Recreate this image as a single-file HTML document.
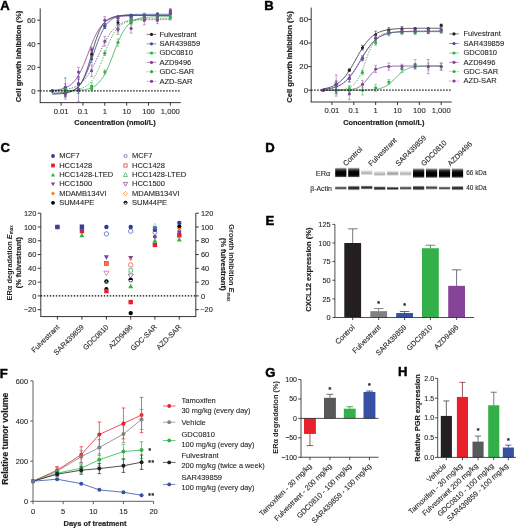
<!DOCTYPE html>
<html><head><meta charset="utf-8"><title>Figure</title>
<style>html,body{margin:0;padding:0;background:#fff}svg{display:block}</style></head>
<body>
<svg width="520" height="530" viewBox="0 0 520 530" font-family="Liberation Sans, Arial, sans-serif">
<rect width="520" height="530" fill="#ffffff"/>
<text x="0.3" y="9.8" font-size="13.1" font-weight="bold" fill="#000" stroke="#000" stroke-width="0.45">A</text>
<text x="264.3" y="9.6" font-size="13.1" font-weight="bold" fill="#000" stroke="#000" stroke-width="0.45">B</text>
<text x="0.5" y="152.4" font-size="13.1" font-weight="bold" fill="#000" stroke="#000" stroke-width="0.45">C</text>
<text x="265.2" y="152.2" font-size="13.1" font-weight="bold" fill="#000" stroke="#000" stroke-width="0.45">D</text>
<text x="265.6" y="224.9" font-size="13.1" font-weight="bold" fill="#000" stroke="#000" stroke-width="0.45">E</text>
<text x="-0.3" y="377.9" font-size="13.1" font-weight="bold" fill="#000" stroke="#000" stroke-width="0.45">F</text>
<text x="265.2" y="376.6" font-size="13.1" font-weight="bold" fill="#000" stroke="#000" stroke-width="0.45">G</text>
<text x="398.0" y="376.0" font-size="13.1" font-weight="bold" fill="#000" stroke="#000" stroke-width="0.45">H</text>
<path d="M52.18 93.14 L53.16 93.13 L54.15 93.11 L55.13 93.09 L56.12 93.07 L57.10 93.05 L58.09 93.02 L59.07 92.98 L60.06 92.94 L61.04 92.88 L62.03 92.82 L63.01 92.75 L64.00 92.66 L64.98 92.56 L65.97 92.43 L66.95 92.29 L67.94 92.11 L68.92 91.90 L69.91 91.66 L70.89 91.36 L71.87 91.02 L72.86 90.61 L73.84 90.13 L74.83 89.56 L75.81 88.90 L76.80 88.12 L77.78 87.22 L78.77 86.17 L79.75 84.95 L80.74 83.56 L81.72 81.96 L82.71 80.16 L83.69 78.13 L84.68 75.87 L85.66 73.38 L86.65 70.66 L87.63 67.74 L88.62 64.63 L89.60 61.37 L90.59 58.01 L91.57 54.59 L92.55 51.17 L93.54 47.80 L94.52 44.52 L95.51 41.39 L96.49 38.44 L97.48 35.69 L98.46 33.16 L99.45 30.86 L100.43 28.80 L101.42 26.96 L102.40 25.34 L103.39 23.91 L104.37 22.67 L105.36 21.60 L106.34 20.67 L107.33 19.88 L108.31 19.20 L109.30 18.62 L110.28 18.12 L111.26 17.70 L112.25 17.35 L113.23 17.05 L114.22 16.80 L115.20 16.58 L116.19 16.40 L117.17 16.25 L118.16 16.13 L119.14 16.02 L120.13 15.93 L121.11 15.85 L122.10 15.79 L123.08 15.74 L124.07 15.69 L125.05 15.65 L126.04 15.62 L127.02 15.60 L128.01 15.57 L128.99 15.55 L129.98 15.54 L130.96 15.53 L131.94 15.51 L132.93 15.51 L133.91 15.50 L134.90 15.49 L135.88 15.49 L136.87 15.48 L137.85 15.48 L138.84 15.47 L139.82 15.47 L140.81 15.47 L141.79 15.47 L142.78 15.47 L143.76 15.46 L144.75 15.46 L145.73 15.46 L146.72 15.46 L147.70 15.46 L148.69 15.46 L149.67 15.46 L150.65 15.46 L151.64 15.46 L152.62 15.46 L153.61 15.46 L154.59 15.46 L155.58 15.46 L156.56 15.46 L157.55 15.46 L158.53 15.46 L159.52 15.46 L160.50 15.46 L161.49 15.46 L162.47 15.46 L163.46 15.46 L164.44 15.46 L165.43 15.46 L166.41 15.46 L167.40 15.46 L168.38 15.46 L169.37 15.46 L170.35 15.46" fill="none" stroke="#231f20" stroke-width="0.75"/>
<path d="M52.18 94.20 L53.16 94.17 L54.15 94.14 L55.13 94.10 L56.12 94.06 L57.10 94.01 L58.09 93.95 L59.07 93.88 L60.06 93.80 L61.04 93.71 L62.03 93.61 L63.01 93.49 L64.00 93.35 L64.98 93.19 L65.97 93.00 L66.95 92.79 L67.94 92.55 L68.92 92.27 L69.91 91.95 L70.89 91.58 L71.87 91.16 L72.86 90.68 L73.84 90.13 L74.83 89.51 L75.81 88.80 L76.80 87.99 L77.78 87.09 L78.77 86.06 L79.75 84.92 L80.74 83.64 L81.72 82.21 L82.71 80.63 L83.69 78.90 L84.68 77.00 L85.66 74.94 L86.65 72.73 L87.63 70.36 L88.62 67.84 L89.60 65.20 L90.59 62.46 L91.57 59.63 L92.55 56.75 L93.54 53.85 L94.52 50.95 L95.51 48.08 L96.49 45.28 L97.48 42.57 L98.46 39.97 L99.45 37.50 L100.43 35.18 L101.42 33.01 L102.40 31.01 L103.39 29.17 L104.37 27.49 L105.36 25.96 L106.34 24.59 L107.33 23.35 L108.31 22.25 L109.30 21.26 L110.28 20.39 L111.26 19.62 L112.25 18.94 L113.23 18.34 L114.22 17.82 L115.20 17.36 L116.19 16.95 L117.17 16.60 L118.16 16.30 L119.14 16.03 L120.13 15.80 L121.11 15.60 L122.10 15.42 L123.08 15.27 L124.07 15.14 L125.05 15.02 L126.04 14.92 L127.02 14.84 L128.01 14.76 L128.99 14.70 L129.98 14.64 L130.96 14.59 L131.94 14.55 L132.93 14.51 L133.91 14.48 L134.90 14.45 L135.88 14.43 L136.87 14.41 L137.85 14.39 L138.84 14.38 L139.82 14.36 L140.81 14.35 L141.79 14.34 L142.78 14.33 L143.76 14.33 L144.75 14.32 L145.73 14.32 L146.72 14.31 L147.70 14.31 L148.69 14.30 L149.67 14.30 L150.65 14.30 L151.64 14.29 L152.62 14.29 L153.61 14.29 L154.59 14.29 L155.58 14.29 L156.56 14.29 L157.55 14.29 L158.53 14.29 L159.52 14.28 L160.50 14.28 L161.49 14.28 L162.47 14.28 L163.46 14.28 L164.44 14.28 L165.43 14.28 L166.41 14.28 L167.40 14.28 L168.38 14.28 L169.37 14.28 L170.35 14.28" fill="none" stroke="#2d3b8c" stroke-width="0.75"/>
<path d="M52.18 90.84 L53.16 90.84 L54.15 90.83 L55.13 90.83 L56.12 90.83 L57.10 90.83 L58.09 90.82 L59.07 90.82 L60.06 90.81 L61.04 90.81 L62.03 90.80 L63.01 90.79 L64.00 90.79 L64.98 90.78 L65.97 90.76 L66.95 90.75 L67.94 90.74 L68.92 90.72 L69.91 90.70 L70.89 90.68 L71.87 90.65 L72.86 90.62 L73.84 90.59 L74.83 90.55 L75.81 90.50 L76.80 90.45 L77.78 90.39 L78.77 90.32 L79.75 90.24 L80.74 90.15 L81.72 90.05 L82.71 89.93 L83.69 89.80 L84.68 89.64 L85.66 89.46 L86.65 89.26 L87.63 89.02 L88.62 88.76 L89.60 88.45 L90.59 88.10 L91.57 87.71 L92.55 87.26 L93.54 86.75 L94.52 86.17 L95.51 85.52 L96.49 84.78 L97.48 83.95 L98.46 83.03 L99.45 81.99 L100.43 80.84 L101.42 79.56 L102.40 78.15 L103.39 76.61 L104.37 74.93 L105.36 73.11 L106.34 71.15 L107.33 69.06 L108.31 66.84 L109.30 64.51 L110.28 62.08 L111.26 59.58 L112.25 57.02 L113.23 54.43 L114.22 51.83 L115.20 49.25 L116.19 46.72 L117.17 44.25 L118.16 41.87 L119.14 39.59 L120.13 37.43 L121.11 35.40 L122.10 33.50 L123.08 31.75 L124.07 30.13 L125.05 28.65 L126.04 27.31 L127.02 26.09 L128.01 24.99 L128.99 24.01 L129.98 23.13 L130.96 22.35 L131.94 21.65 L132.93 21.03 L133.91 20.49 L134.90 20.01 L135.88 19.58 L136.87 19.21 L137.85 18.89 L138.84 18.60 L139.82 18.35 L140.81 18.13 L141.79 17.94 L142.78 17.77 L143.76 17.62 L144.75 17.50 L145.73 17.38 L146.72 17.29 L147.70 17.20 L148.69 17.13 L149.67 17.07 L150.65 17.01 L151.64 16.96 L152.62 16.92 L153.61 16.88 L154.59 16.85 L155.58 16.82 L156.56 16.80 L157.55 16.78 L158.53 16.76 L159.52 16.74 L160.50 16.73 L161.49 16.72 L162.47 16.71 L163.46 16.70 L164.44 16.69 L165.43 16.68 L166.41 16.68 L167.40 16.67 L168.38 16.67 L169.37 16.66 L170.35 16.66" fill="none" stroke="#2ea646" stroke-width="0.75"/>
<path d="M52.18 90.35 L53.16 90.28 L54.15 90.20 L55.13 90.10 L56.12 89.99 L57.10 89.87 L58.09 89.72 L59.07 89.56 L60.06 89.38 L61.04 89.17 L62.03 88.92 L63.01 88.65 L64.00 88.34 L64.98 87.98 L65.97 87.58 L66.95 87.12 L67.94 86.61 L68.92 86.02 L69.91 85.37 L70.89 84.63 L71.87 83.80 L72.86 82.88 L73.84 81.85 L74.83 80.70 L75.81 79.44 L76.80 78.05 L77.78 76.52 L78.77 74.87 L79.75 73.07 L80.74 71.14 L81.72 69.09 L82.71 66.91 L83.69 64.61 L84.68 62.23 L85.66 59.76 L86.65 57.23 L87.63 54.66 L88.62 52.08 L89.60 49.51 L90.59 46.97 L91.57 44.49 L92.55 42.09 L93.54 39.78 L94.52 37.58 L95.51 35.50 L96.49 33.55 L97.48 31.73 L98.46 30.05 L99.45 28.51 L100.43 27.10 L101.42 25.81 L102.40 24.65 L103.39 23.60 L104.37 22.65 L105.36 21.81 L106.34 21.06 L107.33 20.39 L108.31 19.79 L109.30 19.27 L110.28 18.80 L111.26 18.39 L112.25 18.03 L113.23 17.71 L114.22 17.43 L115.20 17.18 L116.19 16.96 L117.17 16.78 L118.16 16.61 L119.14 16.46 L120.13 16.34 L121.11 16.23 L122.10 16.13 L123.08 16.04 L124.07 15.97 L125.05 15.90 L126.04 15.85 L127.02 15.80 L128.01 15.75 L128.99 15.72 L129.98 15.68 L130.96 15.65 L131.94 15.63 L132.93 15.61 L133.91 15.59 L134.90 15.57 L135.88 15.56 L136.87 15.54 L137.85 15.53 L138.84 15.52 L139.82 15.52 L140.81 15.51 L141.79 15.50 L142.78 15.50 L143.76 15.49 L144.75 15.49 L145.73 15.48 L146.72 15.48 L147.70 15.48 L148.69 15.47 L149.67 15.47 L150.65 15.47 L151.64 15.47 L152.62 15.47 L153.61 15.47 L154.59 15.47 L155.58 15.46 L156.56 15.46 L157.55 15.46 L158.53 15.46 L159.52 15.46 L160.50 15.46 L161.49 15.46 L162.47 15.46 L163.46 15.46 L164.44 15.46 L165.43 15.46 L166.41 15.46 L167.40 15.46 L168.38 15.46 L169.37 15.46 L170.35 15.46" fill="none" stroke="#6f3a8c" stroke-width="0.75"/>
<path d="M52.18 90.82 L53.16 90.81 L54.15 90.81 L55.13 90.80 L56.12 90.79 L57.10 90.78 L58.09 90.77 L59.07 90.76 L60.06 90.74 L61.04 90.73 L62.03 90.71 L63.01 90.68 L64.00 90.66 L64.98 90.63 L65.97 90.59 L66.95 90.55 L67.94 90.51 L68.92 90.46 L69.91 90.39 L70.89 90.32 L71.87 90.24 L72.86 90.15 L73.84 90.04 L74.83 89.91 L75.81 89.77 L76.80 89.60 L77.78 89.41 L78.77 89.19 L79.75 88.94 L80.74 88.65 L81.72 88.32 L82.71 87.94 L83.69 87.51 L84.68 87.02 L85.66 86.45 L86.65 85.81 L87.63 85.09 L88.62 84.27 L89.60 83.35 L90.59 82.32 L91.57 81.17 L92.55 79.89 L93.54 78.47 L94.52 76.91 L95.51 75.21 L96.49 73.37 L97.48 71.38 L98.46 69.26 L99.45 67.01 L100.43 64.65 L101.42 62.21 L102.40 59.68 L103.39 57.12 L104.37 54.53 L105.36 51.95 L106.34 49.41 L107.33 46.92 L108.31 44.52 L109.30 42.22 L110.28 40.03 L111.26 37.98 L112.25 36.07 L113.23 34.30 L114.22 32.68 L115.20 31.19 L116.19 29.85 L117.17 28.64 L118.16 27.55 L119.14 26.58 L120.13 25.71 L121.11 24.95 L122.10 24.27 L123.08 23.67 L124.07 23.15 L125.05 22.68 L126.04 22.28 L127.02 21.93 L128.01 21.62 L128.99 21.35 L129.98 21.12 L130.96 20.91 L131.94 20.74 L132.93 20.58 L133.91 20.45 L134.90 20.33 L135.88 20.23 L136.87 20.14 L137.85 20.07 L138.84 20.00 L139.82 19.95 L140.81 19.90 L141.79 19.85 L142.78 19.82 L143.76 19.79 L144.75 19.76 L145.73 19.73 L146.72 19.71 L147.70 19.70 L148.69 19.68 L149.67 19.67 L150.65 19.66 L151.64 19.65 L152.62 19.64 L153.61 19.63 L154.59 19.62 L155.58 19.62 L156.56 19.61 L157.55 19.61 L158.53 19.60 L159.52 19.60 L160.50 19.60 L161.49 19.60 L162.47 19.59 L163.46 19.59 L164.44 19.59 L165.43 19.59 L166.41 19.59 L167.40 19.59 L168.38 19.59 L169.37 19.59 L170.35 19.59" fill="none" stroke="#2ea646" stroke-width="0.75" stroke-dasharray="1.6 1.2"/>
<path d="M52.18 90.57 L53.16 90.54 L54.15 90.50 L55.13 90.45 L56.12 90.40 L57.10 90.35 L58.09 90.29 L59.07 90.22 L60.06 90.14 L61.04 90.05 L62.03 89.95 L63.01 89.84 L64.00 89.72 L64.98 89.58 L65.97 89.43 L66.95 89.26 L67.94 89.06 L68.92 88.85 L69.91 88.61 L70.89 88.34 L71.87 88.04 L72.86 87.70 L73.84 87.33 L74.83 86.91 L75.81 86.45 L76.80 85.94 L77.78 85.38 L78.77 84.76 L79.75 84.07 L80.74 83.31 L81.72 82.49 L82.71 81.58 L83.69 80.59 L84.68 79.51 L85.66 78.35 L86.65 77.09 L87.63 75.74 L88.62 74.29 L89.60 72.74 L90.59 71.11 L91.57 69.38 L92.55 67.58 L93.54 65.69 L94.52 63.74 L95.51 61.73 L96.49 59.67 L97.48 57.58 L98.46 55.47 L99.45 53.36 L100.43 51.26 L101.42 49.18 L102.40 47.14 L103.39 45.15 L104.37 43.22 L105.36 41.36 L106.34 39.58 L107.33 37.89 L108.31 36.29 L109.30 34.78 L110.28 33.36 L111.26 32.05 L112.25 30.82 L113.23 29.69 L114.22 28.64 L115.20 27.69 L116.19 26.81 L117.17 26.01 L118.16 25.28 L119.14 24.61 L120.13 24.01 L121.11 23.47 L122.10 22.98 L123.08 22.54 L124.07 22.14 L125.05 21.78 L126.04 21.46 L127.02 21.17 L128.01 20.91 L128.99 20.68 L129.98 20.47 L130.96 20.28 L131.94 20.12 L132.93 19.97 L133.91 19.84 L134.90 19.72 L135.88 19.61 L136.87 19.52 L137.85 19.44 L138.84 19.36 L139.82 19.30 L140.81 19.24 L141.79 19.18 L142.78 19.14 L143.76 19.09 L144.75 19.06 L145.73 19.02 L146.72 18.99 L147.70 18.97 L148.69 18.95 L149.67 18.92 L150.65 18.91 L151.64 18.89 L152.62 18.87 L153.61 18.86 L154.59 18.85 L155.58 18.84 L156.56 18.83 L157.55 18.82 L158.53 18.81 L159.52 18.81 L160.50 18.80 L161.49 18.80 L162.47 18.79 L163.46 18.79 L164.44 18.79 L165.43 18.78 L166.41 18.78 L167.40 18.78 L168.38 18.77 L169.37 18.77 L170.35 18.77" fill="none" stroke="#6f3a8c" stroke-width="0.75" stroke-dasharray="1.6 1.2"/>
<circle cx="52.18" cy="90.85" r="1.55" fill="#231f20" stroke="none" stroke-width="0.6"/>
<line x1="65.33" y1="89.67" x2="65.33" y2="96.74" stroke="#231f20" stroke-width="0.5" />
<line x1="63.93" y1="89.67" x2="66.73" y2="89.67" stroke="#231f20" stroke-width="0.5" />
<line x1="63.93" y1="96.74" x2="66.73" y2="96.74" stroke="#231f20" stroke-width="0.5" />
<circle cx="65.33" cy="93.21" r="1.55" fill="#231f20" stroke="none" stroke-width="0.6"/>
<line x1="78.49" y1="79.07" x2="78.49" y2="88.49" stroke="#231f20" stroke-width="0.5" />
<line x1="77.09" y1="79.07" x2="79.89" y2="79.07" stroke="#231f20" stroke-width="0.5" />
<line x1="77.09" y1="88.49" x2="79.89" y2="88.49" stroke="#231f20" stroke-width="0.5" />
<circle cx="78.49" cy="83.78" r="1.55" fill="#231f20" stroke="none" stroke-width="0.6"/>
<line x1="91.64" y1="51.98" x2="91.64" y2="56.69" stroke="#231f20" stroke-width="0.5" />
<line x1="90.24" y1="51.98" x2="93.04" y2="51.98" stroke="#231f20" stroke-width="0.5" />
<line x1="90.24" y1="56.69" x2="93.04" y2="56.69" stroke="#231f20" stroke-width="0.5" />
<circle cx="91.64" cy="54.33" r="1.55" fill="#231f20" stroke="none" stroke-width="0.6"/>
<line x1="104.80" y1="23.70" x2="104.80" y2="28.42" stroke="#231f20" stroke-width="0.5" />
<line x1="103.40" y1="23.70" x2="106.20" y2="23.70" stroke="#231f20" stroke-width="0.5" />
<line x1="103.40" y1="28.42" x2="106.20" y2="28.42" stroke="#231f20" stroke-width="0.5" />
<circle cx="104.80" cy="26.06" r="1.55" fill="#231f20" stroke="none" stroke-width="0.6"/>
<line x1="117.96" y1="20.17" x2="117.96" y2="24.88" stroke="#231f20" stroke-width="0.5" />
<line x1="116.56" y1="20.17" x2="119.36" y2="20.17" stroke="#231f20" stroke-width="0.5" />
<line x1="116.56" y1="24.88" x2="119.36" y2="24.88" stroke="#231f20" stroke-width="0.5" />
<circle cx="117.96" cy="22.53" r="1.55" fill="#231f20" stroke="none" stroke-width="0.6"/>
<line x1="131.11" y1="14.28" x2="131.11" y2="18.99" stroke="#231f20" stroke-width="0.5" />
<line x1="129.71" y1="14.28" x2="132.51" y2="14.28" stroke="#231f20" stroke-width="0.5" />
<line x1="129.71" y1="18.99" x2="132.51" y2="18.99" stroke="#231f20" stroke-width="0.5" />
<circle cx="131.11" cy="16.64" r="1.55" fill="#231f20" stroke="none" stroke-width="0.6"/>
<line x1="144.27" y1="14.28" x2="144.27" y2="16.64" stroke="#231f20" stroke-width="0.5" />
<line x1="142.87" y1="14.28" x2="145.67" y2="14.28" stroke="#231f20" stroke-width="0.5" />
<line x1="142.87" y1="16.64" x2="145.67" y2="16.64" stroke="#231f20" stroke-width="0.5" />
<circle cx="144.27" cy="15.46" r="1.55" fill="#231f20" stroke="none" stroke-width="0.6"/>
<line x1="157.42" y1="13.10" x2="157.42" y2="15.46" stroke="#231f20" stroke-width="0.5" />
<line x1="156.02" y1="13.10" x2="158.82" y2="13.10" stroke="#231f20" stroke-width="0.5" />
<line x1="156.02" y1="15.46" x2="158.82" y2="15.46" stroke="#231f20" stroke-width="0.5" />
<circle cx="157.42" cy="14.28" r="1.55" fill="#231f20" stroke="none" stroke-width="0.6"/>
<line x1="170.35" y1="11.92" x2="170.35" y2="14.28" stroke="#231f20" stroke-width="0.5" />
<line x1="168.95" y1="11.92" x2="171.75" y2="11.92" stroke="#231f20" stroke-width="0.5" />
<line x1="168.95" y1="14.28" x2="171.75" y2="14.28" stroke="#231f20" stroke-width="0.5" />
<circle cx="170.35" cy="13.10" r="1.55" fill="#231f20" stroke="none" stroke-width="0.6"/>
<circle cx="52.18" cy="90.85" r="1.55" fill="#3850a2" stroke="none" stroke-width="0.6"/>
<line x1="65.33" y1="77.89" x2="65.33" y2="96.74" stroke="#3850a2" stroke-width="0.5" />
<line x1="63.93" y1="77.89" x2="66.73" y2="77.89" stroke="#3850a2" stroke-width="0.5" />
<line x1="63.93" y1="96.74" x2="66.73" y2="96.74" stroke="#3850a2" stroke-width="0.5" />
<circle cx="65.33" cy="87.32" r="1.55" fill="#3850a2" stroke="none" stroke-width="0.6"/>
<line x1="78.49" y1="76.71" x2="78.49" y2="90.85" stroke="#3850a2" stroke-width="0.5" />
<line x1="77.09" y1="76.71" x2="79.89" y2="76.71" stroke="#3850a2" stroke-width="0.5" />
<line x1="77.09" y1="90.85" x2="79.89" y2="90.85" stroke="#3850a2" stroke-width="0.5" />
<circle cx="78.49" cy="83.78" r="1.55" fill="#3850a2" stroke="none" stroke-width="0.6"/>
<line x1="91.64" y1="55.51" x2="91.64" y2="62.58" stroke="#3850a2" stroke-width="0.5" />
<line x1="90.24" y1="55.51" x2="93.04" y2="55.51" stroke="#3850a2" stroke-width="0.5" />
<line x1="90.24" y1="62.58" x2="93.04" y2="62.58" stroke="#3850a2" stroke-width="0.5" />
<circle cx="91.64" cy="59.04" r="1.55" fill="#3850a2" stroke="none" stroke-width="0.6"/>
<line x1="104.80" y1="23.70" x2="104.80" y2="28.42" stroke="#3850a2" stroke-width="0.5" />
<line x1="103.40" y1="23.70" x2="106.20" y2="23.70" stroke="#3850a2" stroke-width="0.5" />
<line x1="103.40" y1="28.42" x2="106.20" y2="28.42" stroke="#3850a2" stroke-width="0.5" />
<circle cx="104.80" cy="26.06" r="1.55" fill="#3850a2" stroke="none" stroke-width="0.6"/>
<line x1="117.96" y1="15.46" x2="117.96" y2="20.17" stroke="#3850a2" stroke-width="0.5" />
<line x1="116.56" y1="15.46" x2="119.36" y2="15.46" stroke="#3850a2" stroke-width="0.5" />
<line x1="116.56" y1="20.17" x2="119.36" y2="20.17" stroke="#3850a2" stroke-width="0.5" />
<circle cx="117.96" cy="17.81" r="1.55" fill="#3850a2" stroke="none" stroke-width="0.6"/>
<line x1="131.11" y1="14.28" x2="131.11" y2="18.99" stroke="#3850a2" stroke-width="0.5" />
<line x1="129.71" y1="14.28" x2="132.51" y2="14.28" stroke="#3850a2" stroke-width="0.5" />
<line x1="129.71" y1="18.99" x2="132.51" y2="18.99" stroke="#3850a2" stroke-width="0.5" />
<circle cx="131.11" cy="16.64" r="1.55" fill="#3850a2" stroke="none" stroke-width="0.6"/>
<line x1="144.27" y1="13.10" x2="144.27" y2="17.81" stroke="#3850a2" stroke-width="0.5" />
<line x1="142.87" y1="13.10" x2="145.67" y2="13.10" stroke="#3850a2" stroke-width="0.5" />
<line x1="142.87" y1="17.81" x2="145.67" y2="17.81" stroke="#3850a2" stroke-width="0.5" />
<circle cx="144.27" cy="15.46" r="1.55" fill="#3850a2" stroke="none" stroke-width="0.6"/>
<line x1="157.42" y1="13.10" x2="157.42" y2="15.46" stroke="#3850a2" stroke-width="0.5" />
<line x1="156.02" y1="13.10" x2="158.82" y2="13.10" stroke="#3850a2" stroke-width="0.5" />
<line x1="156.02" y1="15.46" x2="158.82" y2="15.46" stroke="#3850a2" stroke-width="0.5" />
<circle cx="157.42" cy="14.28" r="1.55" fill="#3850a2" stroke="none" stroke-width="0.6"/>
<line x1="170.35" y1="9.57" x2="170.35" y2="14.28" stroke="#3850a2" stroke-width="0.5" />
<line x1="168.95" y1="9.57" x2="171.75" y2="9.57" stroke="#3850a2" stroke-width="0.5" />
<line x1="168.95" y1="14.28" x2="171.75" y2="14.28" stroke="#3850a2" stroke-width="0.5" />
<circle cx="170.35" cy="11.92" r="1.55" fill="#3850a2" stroke="none" stroke-width="0.6"/>
<circle cx="52.18" cy="90.85" r="1.55" fill="#33b04a" stroke="none" stroke-width="0.6"/>
<line x1="65.33" y1="88.49" x2="65.33" y2="93.21" stroke="#33b04a" stroke-width="0.5" />
<line x1="63.93" y1="88.49" x2="66.73" y2="88.49" stroke="#33b04a" stroke-width="0.5" />
<line x1="63.93" y1="93.21" x2="66.73" y2="93.21" stroke="#33b04a" stroke-width="0.5" />
<circle cx="65.33" cy="90.85" r="1.55" fill="#33b04a" stroke="none" stroke-width="0.6"/>
<line x1="78.49" y1="88.49" x2="78.49" y2="93.21" stroke="#33b04a" stroke-width="0.5" />
<line x1="77.09" y1="88.49" x2="79.89" y2="88.49" stroke="#33b04a" stroke-width="0.5" />
<line x1="77.09" y1="93.21" x2="79.89" y2="93.21" stroke="#33b04a" stroke-width="0.5" />
<circle cx="78.49" cy="90.85" r="1.55" fill="#33b04a" stroke="none" stroke-width="0.6"/>
<line x1="91.64" y1="86.14" x2="91.64" y2="90.85" stroke="#33b04a" stroke-width="0.5" />
<line x1="90.24" y1="86.14" x2="93.04" y2="86.14" stroke="#33b04a" stroke-width="0.5" />
<line x1="90.24" y1="90.85" x2="93.04" y2="90.85" stroke="#33b04a" stroke-width="0.5" />
<circle cx="91.64" cy="88.49" r="1.55" fill="#33b04a" stroke="none" stroke-width="0.6"/>
<line x1="104.80" y1="69.65" x2="104.80" y2="74.36" stroke="#33b04a" stroke-width="0.5" />
<line x1="103.40" y1="69.65" x2="106.20" y2="69.65" stroke="#33b04a" stroke-width="0.5" />
<line x1="103.40" y1="74.36" x2="106.20" y2="74.36" stroke="#33b04a" stroke-width="0.5" />
<circle cx="104.80" cy="72.00" r="1.55" fill="#33b04a" stroke="none" stroke-width="0.6"/>
<line x1="117.96" y1="39.02" x2="117.96" y2="46.09" stroke="#33b04a" stroke-width="0.5" />
<line x1="116.56" y1="39.02" x2="119.36" y2="39.02" stroke="#33b04a" stroke-width="0.5" />
<line x1="116.56" y1="46.09" x2="119.36" y2="46.09" stroke="#33b04a" stroke-width="0.5" />
<circle cx="117.96" cy="42.55" r="1.55" fill="#33b04a" stroke="none" stroke-width="0.6"/>
<line x1="131.11" y1="20.17" x2="131.11" y2="24.88" stroke="#33b04a" stroke-width="0.5" />
<line x1="129.71" y1="20.17" x2="132.51" y2="20.17" stroke="#33b04a" stroke-width="0.5" />
<line x1="129.71" y1="24.88" x2="132.51" y2="24.88" stroke="#33b04a" stroke-width="0.5" />
<circle cx="131.11" cy="22.53" r="1.55" fill="#33b04a" stroke="none" stroke-width="0.6"/>
<line x1="144.27" y1="15.46" x2="144.27" y2="20.17" stroke="#33b04a" stroke-width="0.5" />
<line x1="142.87" y1="15.46" x2="145.67" y2="15.46" stroke="#33b04a" stroke-width="0.5" />
<line x1="142.87" y1="20.17" x2="145.67" y2="20.17" stroke="#33b04a" stroke-width="0.5" />
<circle cx="144.27" cy="17.81" r="1.55" fill="#33b04a" stroke="none" stroke-width="0.6"/>
<line x1="157.42" y1="14.28" x2="157.42" y2="18.99" stroke="#33b04a" stroke-width="0.5" />
<line x1="156.02" y1="14.28" x2="158.82" y2="14.28" stroke="#33b04a" stroke-width="0.5" />
<line x1="156.02" y1="18.99" x2="158.82" y2="18.99" stroke="#33b04a" stroke-width="0.5" />
<circle cx="157.42" cy="16.64" r="1.55" fill="#33b04a" stroke="none" stroke-width="0.6"/>
<line x1="170.35" y1="14.28" x2="170.35" y2="18.99" stroke="#33b04a" stroke-width="0.5" />
<line x1="168.95" y1="14.28" x2="171.75" y2="14.28" stroke="#33b04a" stroke-width="0.5" />
<line x1="168.95" y1="18.99" x2="171.75" y2="18.99" stroke="#33b04a" stroke-width="0.5" />
<circle cx="170.35" cy="16.64" r="1.55" fill="#33b04a" stroke="none" stroke-width="0.6"/>
<circle cx="52.18" cy="90.85" r="1.55" fill="#86439a" stroke="none" stroke-width="0.6"/>
<line x1="65.33" y1="83.78" x2="65.33" y2="90.85" stroke="#86439a" stroke-width="0.5" />
<line x1="63.93" y1="83.78" x2="66.73" y2="83.78" stroke="#86439a" stroke-width="0.5" />
<line x1="63.93" y1="90.85" x2="66.73" y2="90.85" stroke="#86439a" stroke-width="0.5" />
<circle cx="65.33" cy="87.32" r="1.55" fill="#86439a" stroke="none" stroke-width="0.6"/>
<line x1="78.49" y1="67.29" x2="78.49" y2="76.71" stroke="#86439a" stroke-width="0.5" />
<line x1="77.09" y1="67.29" x2="79.89" y2="67.29" stroke="#86439a" stroke-width="0.5" />
<line x1="77.09" y1="76.71" x2="79.89" y2="76.71" stroke="#86439a" stroke-width="0.5" />
<circle cx="78.49" cy="72.00" r="1.55" fill="#86439a" stroke="none" stroke-width="0.6"/>
<line x1="91.64" y1="47.26" x2="91.64" y2="51.98" stroke="#86439a" stroke-width="0.5" />
<line x1="90.24" y1="47.26" x2="93.04" y2="47.26" stroke="#86439a" stroke-width="0.5" />
<line x1="90.24" y1="51.98" x2="93.04" y2="51.98" stroke="#86439a" stroke-width="0.5" />
<circle cx="91.64" cy="49.62" r="1.55" fill="#86439a" stroke="none" stroke-width="0.6"/>
<line x1="104.80" y1="16.64" x2="104.80" y2="23.70" stroke="#86439a" stroke-width="0.5" />
<line x1="103.40" y1="16.64" x2="106.20" y2="16.64" stroke="#86439a" stroke-width="0.5" />
<line x1="103.40" y1="23.70" x2="106.20" y2="23.70" stroke="#86439a" stroke-width="0.5" />
<circle cx="104.80" cy="20.17" r="1.55" fill="#86439a" stroke="none" stroke-width="0.6"/>
<line x1="117.96" y1="15.46" x2="117.96" y2="20.17" stroke="#86439a" stroke-width="0.5" />
<line x1="116.56" y1="15.46" x2="119.36" y2="15.46" stroke="#86439a" stroke-width="0.5" />
<line x1="116.56" y1="20.17" x2="119.36" y2="20.17" stroke="#86439a" stroke-width="0.5" />
<circle cx="117.96" cy="17.81" r="1.55" fill="#86439a" stroke="none" stroke-width="0.6"/>
<line x1="131.11" y1="15.46" x2="131.11" y2="22.53" stroke="#86439a" stroke-width="0.5" />
<line x1="129.71" y1="15.46" x2="132.51" y2="15.46" stroke="#86439a" stroke-width="0.5" />
<line x1="129.71" y1="22.53" x2="132.51" y2="22.53" stroke="#86439a" stroke-width="0.5" />
<circle cx="131.11" cy="18.99" r="1.55" fill="#86439a" stroke="none" stroke-width="0.6"/>
<line x1="144.27" y1="15.46" x2="144.27" y2="20.17" stroke="#86439a" stroke-width="0.5" />
<line x1="142.87" y1="15.46" x2="145.67" y2="15.46" stroke="#86439a" stroke-width="0.5" />
<line x1="142.87" y1="20.17" x2="145.67" y2="20.17" stroke="#86439a" stroke-width="0.5" />
<circle cx="144.27" cy="17.81" r="1.55" fill="#86439a" stroke="none" stroke-width="0.6"/>
<line x1="157.42" y1="14.28" x2="157.42" y2="18.99" stroke="#86439a" stroke-width="0.5" />
<line x1="156.02" y1="14.28" x2="158.82" y2="14.28" stroke="#86439a" stroke-width="0.5" />
<line x1="156.02" y1="18.99" x2="158.82" y2="18.99" stroke="#86439a" stroke-width="0.5" />
<circle cx="157.42" cy="16.64" r="1.55" fill="#86439a" stroke="none" stroke-width="0.6"/>
<line x1="170.35" y1="8.39" x2="170.35" y2="13.10" stroke="#86439a" stroke-width="0.5" />
<line x1="168.95" y1="8.39" x2="171.75" y2="8.39" stroke="#86439a" stroke-width="0.5" />
<line x1="168.95" y1="13.10" x2="171.75" y2="13.10" stroke="#86439a" stroke-width="0.5" />
<circle cx="170.35" cy="10.75" r="1.55" fill="#86439a" stroke="none" stroke-width="0.6"/>
<circle cx="52.18" cy="90.85" r="1.55" fill="#33b04a" stroke="none" stroke-width="0.6"/>
<line x1="65.33" y1="88.49" x2="65.33" y2="93.21" stroke="#33b04a" stroke-width="0.5" />
<line x1="63.93" y1="88.49" x2="66.73" y2="88.49" stroke="#33b04a" stroke-width="0.5" />
<line x1="63.93" y1="93.21" x2="66.73" y2="93.21" stroke="#33b04a" stroke-width="0.5" />
<circle cx="65.33" cy="90.85" r="1.55" fill="#33b04a" stroke="none" stroke-width="0.6"/>
<line x1="78.49" y1="86.14" x2="78.49" y2="93.21" stroke="#33b04a" stroke-width="0.5" />
<line x1="77.09" y1="86.14" x2="79.89" y2="86.14" stroke="#33b04a" stroke-width="0.5" />
<line x1="77.09" y1="93.21" x2="79.89" y2="93.21" stroke="#33b04a" stroke-width="0.5" />
<circle cx="78.49" cy="89.67" r="1.55" fill="#33b04a" stroke="none" stroke-width="0.6"/>
<line x1="91.64" y1="82.60" x2="91.64" y2="89.67" stroke="#33b04a" stroke-width="0.5" />
<line x1="90.24" y1="82.60" x2="93.04" y2="82.60" stroke="#33b04a" stroke-width="0.5" />
<line x1="90.24" y1="89.67" x2="93.04" y2="89.67" stroke="#33b04a" stroke-width="0.5" />
<circle cx="91.64" cy="86.14" r="1.55" fill="#33b04a" stroke="none" stroke-width="0.6"/>
<line x1="104.80" y1="50.80" x2="104.80" y2="55.51" stroke="#33b04a" stroke-width="0.5" />
<line x1="103.40" y1="50.80" x2="106.20" y2="50.80" stroke="#33b04a" stroke-width="0.5" />
<line x1="103.40" y1="55.51" x2="106.20" y2="55.51" stroke="#33b04a" stroke-width="0.5" />
<circle cx="104.80" cy="53.15" r="1.55" fill="#33b04a" stroke="none" stroke-width="0.6"/>
<line x1="117.96" y1="24.88" x2="117.96" y2="31.95" stroke="#33b04a" stroke-width="0.5" />
<line x1="116.56" y1="24.88" x2="119.36" y2="24.88" stroke="#33b04a" stroke-width="0.5" />
<line x1="116.56" y1="31.95" x2="119.36" y2="31.95" stroke="#33b04a" stroke-width="0.5" />
<circle cx="117.96" cy="28.42" r="1.55" fill="#33b04a" stroke="none" stroke-width="0.6"/>
<line x1="131.11" y1="17.81" x2="131.11" y2="22.53" stroke="#33b04a" stroke-width="0.5" />
<line x1="129.71" y1="17.81" x2="132.51" y2="17.81" stroke="#33b04a" stroke-width="0.5" />
<line x1="129.71" y1="22.53" x2="132.51" y2="22.53" stroke="#33b04a" stroke-width="0.5" />
<circle cx="131.11" cy="20.17" r="1.55" fill="#33b04a" stroke="none" stroke-width="0.6"/>
<line x1="144.27" y1="16.64" x2="144.27" y2="21.35" stroke="#33b04a" stroke-width="0.5" />
<line x1="142.87" y1="16.64" x2="145.67" y2="16.64" stroke="#33b04a" stroke-width="0.5" />
<line x1="142.87" y1="21.35" x2="145.67" y2="21.35" stroke="#33b04a" stroke-width="0.5" />
<circle cx="144.27" cy="18.99" r="1.55" fill="#33b04a" stroke="none" stroke-width="0.6"/>
<line x1="157.42" y1="16.64" x2="157.42" y2="21.35" stroke="#33b04a" stroke-width="0.5" />
<line x1="156.02" y1="16.64" x2="158.82" y2="16.64" stroke="#33b04a" stroke-width="0.5" />
<line x1="156.02" y1="21.35" x2="158.82" y2="21.35" stroke="#33b04a" stroke-width="0.5" />
<circle cx="157.42" cy="18.99" r="1.55" fill="#33b04a" stroke="none" stroke-width="0.6"/>
<line x1="170.35" y1="15.46" x2="170.35" y2="20.17" stroke="#33b04a" stroke-width="0.5" />
<line x1="168.95" y1="15.46" x2="171.75" y2="15.46" stroke="#33b04a" stroke-width="0.5" />
<line x1="168.95" y1="20.17" x2="171.75" y2="20.17" stroke="#33b04a" stroke-width="0.5" />
<circle cx="170.35" cy="17.81" r="1.55" fill="#33b04a" stroke="none" stroke-width="0.6"/>
<circle cx="52.18" cy="90.85" r="1.55" fill="#86439a" stroke="none" stroke-width="0.6"/>
<line x1="65.33" y1="89.67" x2="65.33" y2="99.10" stroke="#86439a" stroke-width="0.5" />
<line x1="63.93" y1="89.67" x2="66.73" y2="89.67" stroke="#86439a" stroke-width="0.5" />
<line x1="63.93" y1="99.10" x2="66.73" y2="99.10" stroke="#86439a" stroke-width="0.5" />
<circle cx="65.33" cy="94.38" r="1.55" fill="#86439a" stroke="none" stroke-width="0.6"/>
<line x1="78.49" y1="77.89" x2="78.49" y2="101.45" stroke="#86439a" stroke-width="0.5" />
<line x1="77.09" y1="77.89" x2="79.89" y2="77.89" stroke="#86439a" stroke-width="0.5" />
<line x1="77.09" y1="101.45" x2="79.89" y2="101.45" stroke="#86439a" stroke-width="0.5" />
<circle cx="78.49" cy="89.67" r="1.55" fill="#86439a" stroke="none" stroke-width="0.6"/>
<line x1="91.64" y1="64.93" x2="91.64" y2="76.71" stroke="#86439a" stroke-width="0.5" />
<line x1="90.24" y1="64.93" x2="93.04" y2="64.93" stroke="#86439a" stroke-width="0.5" />
<line x1="90.24" y1="76.71" x2="93.04" y2="76.71" stroke="#86439a" stroke-width="0.5" />
<circle cx="91.64" cy="70.82" r="1.55" fill="#86439a" stroke="none" stroke-width="0.6"/>
<line x1="104.80" y1="36.66" x2="104.80" y2="46.09" stroke="#86439a" stroke-width="0.5" />
<line x1="103.40" y1="36.66" x2="106.20" y2="36.66" stroke="#86439a" stroke-width="0.5" />
<line x1="103.40" y1="46.09" x2="106.20" y2="46.09" stroke="#86439a" stroke-width="0.5" />
<circle cx="104.80" cy="41.37" r="1.55" fill="#86439a" stroke="none" stroke-width="0.6"/>
<line x1="117.96" y1="24.88" x2="117.96" y2="34.31" stroke="#86439a" stroke-width="0.5" />
<line x1="116.56" y1="24.88" x2="119.36" y2="24.88" stroke="#86439a" stroke-width="0.5" />
<line x1="116.56" y1="34.31" x2="119.36" y2="34.31" stroke="#86439a" stroke-width="0.5" />
<circle cx="117.96" cy="29.59" r="1.55" fill="#86439a" stroke="none" stroke-width="0.6"/>
<line x1="131.11" y1="23.70" x2="131.11" y2="33.13" stroke="#86439a" stroke-width="0.5" />
<line x1="129.71" y1="23.70" x2="132.51" y2="23.70" stroke="#86439a" stroke-width="0.5" />
<line x1="129.71" y1="33.13" x2="132.51" y2="33.13" stroke="#86439a" stroke-width="0.5" />
<circle cx="131.11" cy="28.42" r="1.55" fill="#86439a" stroke="none" stroke-width="0.6"/>
<line x1="144.27" y1="15.46" x2="144.27" y2="24.88" stroke="#86439a" stroke-width="0.5" />
<line x1="142.87" y1="15.46" x2="145.67" y2="15.46" stroke="#86439a" stroke-width="0.5" />
<line x1="142.87" y1="24.88" x2="145.67" y2="24.88" stroke="#86439a" stroke-width="0.5" />
<circle cx="144.27" cy="20.17" r="1.55" fill="#86439a" stroke="none" stroke-width="0.6"/>
<line x1="157.42" y1="16.64" x2="157.42" y2="23.70" stroke="#86439a" stroke-width="0.5" />
<line x1="156.02" y1="16.64" x2="158.82" y2="16.64" stroke="#86439a" stroke-width="0.5" />
<line x1="156.02" y1="23.70" x2="158.82" y2="23.70" stroke="#86439a" stroke-width="0.5" />
<circle cx="157.42" cy="20.17" r="1.55" fill="#86439a" stroke="none" stroke-width="0.6"/>
<line x1="170.35" y1="9.57" x2="170.35" y2="14.28" stroke="#86439a" stroke-width="0.5" />
<line x1="168.95" y1="9.57" x2="171.75" y2="9.57" stroke="#86439a" stroke-width="0.5" />
<line x1="168.95" y1="14.28" x2="171.75" y2="14.28" stroke="#86439a" stroke-width="0.5" />
<circle cx="170.35" cy="11.92" r="1.55" fill="#86439a" stroke="none" stroke-width="0.6"/>
<line x1="40.20" y1="90.85" x2="180.85" y2="90.85" stroke="#000" stroke-width="1.3" stroke-dasharray="1.4 1.6"/>
<line x1="40.20" y1="8.39" x2="40.20" y2="102.63" stroke="#231f20" stroke-width="0.9" />
<line x1="39.75" y1="102.63" x2="180.85" y2="102.63" stroke="#231f20" stroke-width="0.9" />
<line x1="37.20" y1="90.85" x2="40.20" y2="90.85" stroke="#231f20" stroke-width="0.9" />
<text x="35.60" y="93.65" font-size="7.8" text-anchor="end" fill="#231f20" stroke="#231f20" stroke-width="0.1" >0</text>
<line x1="37.20" y1="67.29" x2="40.20" y2="67.29" stroke="#231f20" stroke-width="0.9" />
<text x="35.60" y="70.09" font-size="7.8" text-anchor="end" fill="#231f20" stroke="#231f20" stroke-width="0.1" >20</text>
<line x1="37.20" y1="43.73" x2="40.20" y2="43.73" stroke="#231f20" stroke-width="0.9" />
<text x="35.60" y="46.53" font-size="7.8" text-anchor="end" fill="#231f20" stroke="#231f20" stroke-width="0.1" >40</text>
<line x1="37.20" y1="20.17" x2="40.20" y2="20.17" stroke="#231f20" stroke-width="0.9" />
<text x="35.60" y="22.97" font-size="7.8" text-anchor="end" fill="#231f20" stroke="#231f20" stroke-width="0.1" >60</text>
<line x1="61.10" y1="102.63" x2="61.10" y2="105.63" stroke="#231f20" stroke-width="0.9" />
<text x="61.10" y="113.83" font-size="7.6" text-anchor="middle" fill="#231f20" stroke="#231f20" stroke-width="0.1" >0.01</text>
<line x1="82.95" y1="102.63" x2="82.95" y2="105.63" stroke="#231f20" stroke-width="0.9" />
<text x="82.95" y="113.83" font-size="7.6" text-anchor="middle" fill="#231f20" stroke="#231f20" stroke-width="0.1" >0.1</text>
<line x1="104.80" y1="102.63" x2="104.80" y2="105.63" stroke="#231f20" stroke-width="0.9" />
<text x="104.80" y="113.83" font-size="7.6" text-anchor="middle" fill="#231f20" stroke="#231f20" stroke-width="0.1" >1</text>
<line x1="126.65" y1="102.63" x2="126.65" y2="105.63" stroke="#231f20" stroke-width="0.9" />
<text x="126.65" y="113.83" font-size="7.6" text-anchor="middle" fill="#231f20" stroke="#231f20" stroke-width="0.1" >10</text>
<line x1="148.50" y1="102.63" x2="148.50" y2="105.63" stroke="#231f20" stroke-width="0.9" />
<text x="148.50" y="113.83" font-size="7.6" text-anchor="middle" fill="#231f20" stroke="#231f20" stroke-width="0.1" >100</text>
<line x1="170.35" y1="102.63" x2="170.35" y2="105.63" stroke="#231f20" stroke-width="0.9" />
<text x="170.35" y="113.83" font-size="7.6" text-anchor="middle" fill="#231f20" stroke="#231f20" stroke-width="0.1" >1,000</text>
<text x="115.00" y="125.10" font-size="7.4" text-anchor="middle" fill="#231f20" stroke="#231f20" stroke-width="0.2" font-weight="bold" >Concentration (nmol/L)</text>
<text x="20.90" y="56.60" font-size="7.6" text-anchor="middle" fill="#231f20" stroke="#231f20" stroke-width="0.2" font-weight="bold" transform="rotate(-90 20.90 56.60)" >Cell growth inhibition (%)</text>
<line x1="146.70" y1="34.40" x2="156.30" y2="34.40" stroke="#231f20" stroke-width="0.6" />
<circle cx="151.50" cy="34.40" r="1.6" fill="#231f20" stroke="none" stroke-width="0.6"/>
<text x="159.40" y="36.70" font-size="7.55" text-anchor="start" fill="#231f20" stroke="#231f20" stroke-width="0.1" >Fulvestrant</text>
<line x1="146.70" y1="43.80" x2="156.30" y2="43.80" stroke="#3850a2" stroke-width="0.6" />
<circle cx="151.50" cy="43.80" r="1.6" fill="#3850a2" stroke="none" stroke-width="0.6"/>
<text x="159.40" y="46.10" font-size="7.55" text-anchor="start" fill="#231f20" stroke="#231f20" stroke-width="0.1" >SAR439859</text>
<line x1="146.70" y1="53.00" x2="156.30" y2="53.00" stroke="#33b04a" stroke-width="0.6" />
<circle cx="151.50" cy="53.00" r="1.6" fill="#33b04a" stroke="none" stroke-width="0.6"/>
<text x="159.40" y="55.30" font-size="7.55" text-anchor="start" fill="#231f20" stroke="#231f20" stroke-width="0.1" >GDC0810</text>
<line x1="146.70" y1="62.40" x2="156.30" y2="62.40" stroke="#86439a" stroke-width="0.6" />
<circle cx="151.50" cy="62.40" r="1.6" fill="#86439a" stroke="none" stroke-width="0.6"/>
<text x="159.40" y="64.70" font-size="7.55" text-anchor="start" fill="#231f20" stroke="#231f20" stroke-width="0.1" >AZD9496</text>
<line x1="146.70" y1="71.70" x2="156.30" y2="71.70" stroke="#33b04a" stroke-width="0.6" stroke-dasharray="1.6 1.2"/>
<circle cx="151.50" cy="71.70" r="1.6" fill="#33b04a" stroke="none" stroke-width="0.6"/>
<text x="159.40" y="74.00" font-size="7.55" text-anchor="start" fill="#231f20" stroke="#231f20" stroke-width="0.1" >GDC-SAR</text>
<line x1="146.70" y1="81.30" x2="156.30" y2="81.30" stroke="#86439a" stroke-width="0.6" stroke-dasharray="1.6 1.2"/>
<circle cx="151.50" cy="81.30" r="1.6" fill="#86439a" stroke="none" stroke-width="0.6"/>
<text x="159.40" y="83.60" font-size="7.55" text-anchor="start" fill="#231f20" stroke="#231f20" stroke-width="0.1" >AZD-SAR</text>
<path d="M323.03 88.86 L324.01 88.70 L325.00 88.53 L325.98 88.33 L326.97 88.11 L327.95 87.87 L328.94 87.60 L329.92 87.30 L330.91 86.97 L331.89 86.60 L332.88 86.19 L333.86 85.74 L334.85 85.24 L335.83 84.70 L336.82 84.10 L337.80 83.44 L338.79 82.72 L339.77 81.94 L340.76 81.09 L341.74 80.16 L342.72 79.17 L343.71 78.09 L344.69 76.94 L345.68 75.71 L346.66 74.41 L347.65 73.03 L348.63 71.58 L349.62 70.06 L350.60 68.48 L351.59 66.84 L352.57 65.16 L353.56 63.44 L354.54 61.69 L355.53 59.93 L356.51 58.16 L357.50 56.40 L358.48 54.66 L359.47 52.94 L360.45 51.27 L361.44 49.64 L362.42 48.07 L363.40 46.57 L364.39 45.13 L365.37 43.77 L366.36 42.48 L367.34 41.26 L368.33 40.13 L369.31 39.07 L370.30 38.09 L371.28 37.18 L372.27 36.34 L373.25 35.57 L374.24 34.87 L375.22 34.22 L376.21 33.63 L377.19 33.10 L378.18 32.61 L379.16 32.17 L380.15 31.77 L381.13 31.41 L382.11 31.09 L383.10 30.79 L384.08 30.53 L385.07 30.29 L386.05 30.08 L387.04 29.89 L388.02 29.71 L389.01 29.56 L389.99 29.42 L390.98 29.30 L391.96 29.19 L392.95 29.09 L393.93 29.00 L394.92 28.92 L395.90 28.85 L396.89 28.78 L397.87 28.72 L398.86 28.67 L399.84 28.63 L400.83 28.59 L401.81 28.55 L402.79 28.52 L403.78 28.49 L404.76 28.46 L405.75 28.44 L406.73 28.42 L407.72 28.40 L408.70 28.39 L409.69 28.37 L410.67 28.36 L411.66 28.35 L412.64 28.34 L413.63 28.33 L414.61 28.32 L415.60 28.31 L416.58 28.30 L417.57 28.30 L418.55 28.29 L419.54 28.29 L420.52 28.28 L421.50 28.28 L422.49 28.28 L423.47 28.27 L424.46 28.27 L425.44 28.27 L426.43 28.27 L427.41 28.27 L428.40 28.26 L429.38 28.26 L430.37 28.26 L431.35 28.26 L432.34 28.26 L433.32 28.26 L434.31 28.26 L435.29 28.26 L436.28 28.26 L437.26 28.25 L438.25 28.25 L439.23 28.25 L440.22 28.25 L441.20 28.25" fill="none" stroke="#231f20" stroke-width="0.75"/>
<path d="M323.03 89.43 L324.01 89.34 L325.00 89.24 L325.98 89.13 L326.97 89.00 L327.95 88.86 L328.94 88.70 L329.92 88.52 L330.91 88.32 L331.89 88.11 L332.88 87.86 L333.86 87.59 L334.85 87.29 L335.83 86.96 L336.82 86.59 L337.80 86.19 L338.79 85.74 L339.77 85.24 L340.76 84.70 L341.74 84.10 L342.72 83.45 L343.71 82.74 L344.69 81.96 L345.68 81.12 L346.66 80.20 L347.65 79.22 L348.63 78.16 L349.62 77.03 L350.60 75.83 L351.59 74.55 L352.57 73.20 L353.56 71.79 L354.54 70.31 L355.53 68.78 L356.51 67.20 L357.50 65.58 L358.48 63.93 L359.47 62.26 L360.45 60.58 L361.44 58.89 L362.42 57.22 L363.40 55.58 L364.39 53.96 L365.37 52.39 L366.36 50.86 L367.34 49.40 L368.33 47.99 L369.31 46.66 L370.30 45.39 L371.28 44.20 L372.27 43.08 L373.25 42.03 L374.24 41.06 L375.22 40.15 L376.21 39.32 L377.19 38.55 L378.18 37.85 L379.16 37.21 L380.15 36.62 L381.13 36.08 L382.11 35.59 L383.10 35.15 L384.08 34.75 L385.07 34.39 L386.05 34.06 L387.04 33.77 L388.02 33.50 L389.01 33.26 L389.99 33.05 L390.98 32.85 L391.96 32.68 L392.95 32.52 L393.93 32.38 L394.92 32.26 L395.90 32.15 L396.89 32.04 L397.87 31.95 L398.86 31.87 L399.84 31.80 L400.83 31.74 L401.81 31.68 L402.79 31.63 L403.78 31.58 L404.76 31.54 L405.75 31.51 L406.73 31.47 L407.72 31.44 L408.70 31.42 L409.69 31.39 L410.67 31.37 L411.66 31.35 L412.64 31.34 L413.63 31.32 L414.61 31.31 L415.60 31.30 L416.58 31.29 L417.57 31.28 L418.55 31.27 L419.54 31.26 L420.52 31.26 L421.50 31.25 L422.49 31.24 L423.47 31.24 L424.46 31.24 L425.44 31.23 L426.43 31.23 L427.41 31.22 L428.40 31.22 L429.38 31.22 L430.37 31.22 L431.35 31.22 L432.34 31.21 L433.32 31.21 L434.31 31.21 L435.29 31.21 L436.28 31.21 L437.26 31.21 L438.25 31.21 L439.23 31.21 L440.22 31.21 L441.20 31.21" fill="none" stroke="#2d3b8c" stroke-width="0.75"/>
<path d="M323.03 90.20 L324.01 90.20 L325.00 90.20 L325.98 90.20 L326.97 90.20 L327.95 90.20 L328.94 90.20 L329.92 90.20 L330.91 90.20 L331.89 90.20 L332.88 90.20 L333.86 90.20 L334.85 90.20 L335.83 90.20 L336.82 90.20 L337.80 90.20 L338.79 90.20 L339.77 90.20 L340.76 90.20 L341.74 90.20 L342.72 90.20 L343.71 90.20 L344.69 90.20 L345.68 90.19 L346.66 90.19 L347.65 90.19 L348.63 90.19 L349.62 90.19 L350.60 90.19 L351.59 90.18 L352.57 90.18 L353.56 90.18 L354.54 90.18 L355.53 90.17 L356.51 90.17 L357.50 90.16 L358.48 90.15 L359.47 90.14 L360.45 90.13 L361.44 90.12 L362.42 90.11 L363.40 90.09 L364.39 90.07 L365.37 90.05 L366.36 90.02 L367.34 89.99 L368.33 89.95 L369.31 89.91 L370.30 89.85 L371.28 89.79 L372.27 89.72 L373.25 89.63 L374.24 89.53 L375.22 89.42 L376.21 89.28 L377.19 89.12 L378.18 88.94 L379.16 88.73 L380.15 88.48 L381.13 88.19 L382.11 87.87 L383.10 87.49 L384.08 87.07 L385.07 86.58 L386.05 86.04 L387.04 85.44 L388.02 84.77 L389.01 84.04 L389.99 83.25 L390.98 82.40 L391.96 81.50 L392.95 80.55 L393.93 79.58 L394.92 78.58 L395.90 77.58 L396.89 76.58 L397.87 75.60 L398.86 74.66 L399.84 73.76 L400.83 72.91 L401.81 72.13 L402.79 71.40 L403.78 70.73 L404.76 70.14 L405.75 69.60 L406.73 69.12 L407.72 68.70 L408.70 68.32 L409.69 68.00 L410.67 67.72 L411.66 67.47 L412.64 67.26 L413.63 67.08 L414.61 66.92 L415.60 66.78 L416.58 66.67 L417.57 66.57 L418.55 66.49 L419.54 66.42 L420.52 66.35 L421.50 66.30 L422.49 66.26 L423.47 66.22 L424.46 66.19 L425.44 66.16 L426.43 66.14 L427.41 66.12 L428.40 66.10 L429.38 66.09 L430.37 66.08 L431.35 66.07 L432.34 66.06 L433.32 66.05 L434.31 66.04 L435.29 66.04 L436.28 66.03 L437.26 66.03 L438.25 66.03 L439.23 66.02 L440.22 66.02 L441.20 66.02" fill="none" stroke="#2ea646" stroke-width="0.75"/>
<path d="M323.03 90.20 L324.01 90.20 L325.00 90.20 L325.98 90.20 L326.97 90.20 L327.95 90.19 L328.94 90.19 L329.92 90.19 L330.91 90.19 L331.89 90.19 L332.88 90.19 L333.86 90.18 L334.85 90.18 L335.83 90.17 L336.82 90.17 L337.80 90.16 L338.79 90.15 L339.77 90.14 L340.76 90.12 L341.74 90.11 L342.72 90.08 L343.71 90.06 L344.69 90.03 L345.68 89.99 L346.66 89.94 L347.65 89.88 L348.63 89.80 L349.62 89.72 L350.60 89.61 L351.59 89.47 L352.57 89.31 L353.56 89.12 L354.54 88.88 L355.53 88.60 L356.51 88.25 L357.50 87.85 L358.48 87.37 L359.47 86.81 L360.45 86.16 L361.44 85.41 L362.42 84.56 L363.40 83.62 L364.39 82.58 L365.37 81.45 L366.36 80.27 L367.34 79.03 L368.33 77.78 L369.31 76.53 L370.30 75.32 L371.28 74.16 L372.27 73.08 L373.25 72.09 L374.24 71.19 L375.22 70.40 L376.21 69.70 L377.19 69.10 L378.18 68.58 L379.16 68.14 L380.15 67.77 L381.13 67.46 L382.11 67.20 L383.10 66.99 L384.08 66.81 L385.07 66.66 L386.05 66.54 L387.04 66.45 L388.02 66.37 L389.01 66.30 L389.99 66.25 L390.98 66.20 L391.96 66.17 L392.95 66.14 L393.93 66.11 L394.92 66.09 L395.90 66.08 L396.89 66.07 L397.87 66.06 L398.86 66.05 L399.84 66.04 L400.83 66.03 L401.81 66.03 L402.79 66.03 L403.78 66.02 L404.76 66.02 L405.75 66.02 L406.73 66.02 L407.72 66.02 L408.70 66.01 L409.69 66.01 L410.67 66.01 L411.66 66.01 L412.64 66.01 L413.63 66.01 L414.61 66.01 L415.60 66.01 L416.58 66.01 L417.57 66.01 L418.55 66.01 L419.54 66.01 L420.52 66.01 L421.50 66.01 L422.49 66.01 L423.47 66.01 L424.46 66.01 L425.44 66.01 L426.43 66.01 L427.41 66.01 L428.40 66.01 L429.38 66.01 L430.37 66.01 L431.35 66.01 L432.34 66.01 L433.32 66.01 L434.31 66.01 L435.29 66.01 L436.28 66.01 L437.26 66.01 L438.25 66.01 L439.23 66.01 L440.22 66.01 L441.20 66.01" fill="none" stroke="#6f3a8c" stroke-width="0.75"/>
<path d="M323.03 90.18 L324.01 90.18 L325.00 90.17 L325.98 90.17 L326.97 90.16 L327.95 90.15 L328.94 90.15 L329.92 90.13 L330.91 90.12 L331.89 90.10 L332.88 90.08 L333.86 90.06 L334.85 90.03 L335.83 90.00 L336.82 89.96 L337.80 89.91 L338.79 89.85 L339.77 89.78 L340.76 89.69 L341.74 89.58 L342.72 89.46 L343.71 89.31 L344.69 89.13 L345.68 88.92 L346.66 88.66 L347.65 88.35 L348.63 87.99 L349.62 87.55 L350.60 87.04 L351.59 86.43 L352.57 85.72 L353.56 84.88 L354.54 83.91 L355.53 82.78 L356.51 81.48 L357.50 80.01 L358.48 78.34 L359.47 76.47 L360.45 74.42 L361.44 72.17 L362.42 69.77 L363.40 67.22 L364.39 64.57 L365.37 61.86 L366.36 59.14 L367.34 56.45 L368.33 53.83 L369.31 51.33 L370.30 48.98 L371.28 46.81 L372.27 44.82 L373.25 43.02 L374.24 41.43 L375.22 40.02 L376.21 38.78 L377.19 37.71 L378.18 36.79 L379.16 36.00 L380.15 35.32 L381.13 34.75 L382.11 34.27 L383.10 33.86 L384.08 33.52 L385.07 33.23 L386.05 32.99 L387.04 32.79 L388.02 32.62 L389.01 32.48 L389.99 32.37 L390.98 32.27 L391.96 32.19 L392.95 32.12 L393.93 32.06 L394.92 32.02 L395.90 31.98 L396.89 31.95 L397.87 31.92 L398.86 31.90 L399.84 31.88 L400.83 31.86 L401.81 31.85 L402.79 31.84 L403.78 31.83 L404.76 31.83 L405.75 31.82 L406.73 31.81 L407.72 31.81 L408.70 31.81 L409.69 31.80 L410.67 31.80 L411.66 31.80 L412.64 31.80 L413.63 31.80 L414.61 31.80 L415.60 31.79 L416.58 31.79 L417.57 31.79 L418.55 31.79 L419.54 31.79 L420.52 31.79 L421.50 31.79 L422.49 31.79 L423.47 31.79 L424.46 31.79 L425.44 31.79 L426.43 31.79 L427.41 31.79 L428.40 31.79 L429.38 31.79 L430.37 31.79 L431.35 31.79 L432.34 31.79 L433.32 31.79 L434.31 31.79 L435.29 31.79 L436.28 31.79 L437.26 31.79 L438.25 31.79 L439.23 31.79 L440.22 31.79 L441.20 31.79" fill="none" stroke="#2ea646" stroke-width="0.75" stroke-dasharray="1.6 1.2"/>
<path d="M323.03 89.43 L324.01 89.34 L325.00 89.24 L325.98 89.13 L326.97 89.00 L327.95 88.86 L328.94 88.70 L329.92 88.52 L330.91 88.32 L331.89 88.11 L332.88 87.86 L333.86 87.59 L334.85 87.29 L335.83 86.96 L336.82 86.59 L337.80 86.19 L338.79 85.74 L339.77 85.24 L340.76 84.70 L341.74 84.10 L342.72 83.45 L343.71 82.74 L344.69 81.96 L345.68 81.12 L346.66 80.20 L347.65 79.22 L348.63 78.16 L349.62 77.03 L350.60 75.83 L351.59 74.55 L352.57 73.20 L353.56 71.79 L354.54 70.31 L355.53 68.78 L356.51 67.20 L357.50 65.58 L358.48 63.93 L359.47 62.26 L360.45 60.58 L361.44 58.89 L362.42 57.22 L363.40 55.58 L364.39 53.96 L365.37 52.39 L366.36 50.86 L367.34 49.40 L368.33 47.99 L369.31 46.66 L370.30 45.39 L371.28 44.20 L372.27 43.08 L373.25 42.03 L374.24 41.06 L375.22 40.15 L376.21 39.32 L377.19 38.55 L378.18 37.85 L379.16 37.21 L380.15 36.62 L381.13 36.08 L382.11 35.59 L383.10 35.15 L384.08 34.75 L385.07 34.39 L386.05 34.06 L387.04 33.77 L388.02 33.50 L389.01 33.26 L389.99 33.05 L390.98 32.85 L391.96 32.68 L392.95 32.52 L393.93 32.38 L394.92 32.26 L395.90 32.15 L396.89 32.04 L397.87 31.95 L398.86 31.87 L399.84 31.80 L400.83 31.74 L401.81 31.68 L402.79 31.63 L403.78 31.58 L404.76 31.54 L405.75 31.51 L406.73 31.47 L407.72 31.44 L408.70 31.42 L409.69 31.39 L410.67 31.37 L411.66 31.35 L412.64 31.34 L413.63 31.32 L414.61 31.31 L415.60 31.30 L416.58 31.29 L417.57 31.28 L418.55 31.27 L419.54 31.26 L420.52 31.26 L421.50 31.25 L422.49 31.24 L423.47 31.24 L424.46 31.24 L425.44 31.23 L426.43 31.23 L427.41 31.22 L428.40 31.22 L429.38 31.22 L430.37 31.22 L431.35 31.22 L432.34 31.21 L433.32 31.21 L434.31 31.21 L435.29 31.21 L436.28 31.21 L437.26 31.21 L438.25 31.21 L439.23 31.21 L440.22 31.21 L441.20 31.21" fill="none" stroke="#6f3a8c" stroke-width="0.75" stroke-dasharray="1.6 1.2"/>
<circle cx="323.03" cy="90.20" r="1.55" fill="#231f20" stroke="none" stroke-width="0.6"/>
<line x1="336.18" y1="81.94" x2="336.18" y2="86.66" stroke="#231f20" stroke-width="0.5" />
<line x1="334.78" y1="81.94" x2="337.58" y2="81.94" stroke="#231f20" stroke-width="0.5" />
<line x1="334.78" y1="86.66" x2="337.58" y2="86.66" stroke="#231f20" stroke-width="0.5" />
<circle cx="336.18" cy="84.30" r="1.55" fill="#231f20" stroke="none" stroke-width="0.6"/>
<line x1="349.34" y1="68.96" x2="349.34" y2="71.32" stroke="#231f20" stroke-width="0.5" />
<line x1="347.94" y1="68.96" x2="350.74" y2="68.96" stroke="#231f20" stroke-width="0.5" />
<line x1="347.94" y1="71.32" x2="350.74" y2="71.32" stroke="#231f20" stroke-width="0.5" />
<circle cx="349.34" cy="70.14" r="1.55" fill="#231f20" stroke="none" stroke-width="0.6"/>
<line x1="362.49" y1="45.36" x2="362.49" y2="50.08" stroke="#231f20" stroke-width="0.5" />
<line x1="361.09" y1="45.36" x2="363.89" y2="45.36" stroke="#231f20" stroke-width="0.5" />
<line x1="361.09" y1="50.08" x2="363.89" y2="50.08" stroke="#231f20" stroke-width="0.5" />
<circle cx="362.49" cy="47.72" r="1.55" fill="#231f20" stroke="none" stroke-width="0.6"/>
<line x1="375.65" y1="31.20" x2="375.65" y2="38.28" stroke="#231f20" stroke-width="0.5" />
<line x1="374.25" y1="31.20" x2="377.05" y2="31.20" stroke="#231f20" stroke-width="0.5" />
<line x1="374.25" y1="38.28" x2="377.05" y2="38.28" stroke="#231f20" stroke-width="0.5" />
<circle cx="375.65" cy="34.74" r="1.55" fill="#231f20" stroke="none" stroke-width="0.6"/>
<line x1="388.81" y1="27.66" x2="388.81" y2="32.38" stroke="#231f20" stroke-width="0.5" />
<line x1="387.41" y1="27.66" x2="390.21" y2="27.66" stroke="#231f20" stroke-width="0.5" />
<line x1="387.41" y1="32.38" x2="390.21" y2="32.38" stroke="#231f20" stroke-width="0.5" />
<circle cx="388.81" cy="30.02" r="1.55" fill="#231f20" stroke="none" stroke-width="0.6"/>
<line x1="401.96" y1="26.48" x2="401.96" y2="31.20" stroke="#231f20" stroke-width="0.5" />
<line x1="400.56" y1="26.48" x2="403.36" y2="26.48" stroke="#231f20" stroke-width="0.5" />
<line x1="400.56" y1="31.20" x2="403.36" y2="31.20" stroke="#231f20" stroke-width="0.5" />
<circle cx="401.96" cy="28.84" r="1.55" fill="#231f20" stroke="none" stroke-width="0.6"/>
<line x1="415.12" y1="27.66" x2="415.12" y2="30.02" stroke="#231f20" stroke-width="0.5" />
<line x1="413.72" y1="27.66" x2="416.52" y2="27.66" stroke="#231f20" stroke-width="0.5" />
<line x1="413.72" y1="30.02" x2="416.52" y2="30.02" stroke="#231f20" stroke-width="0.5" />
<circle cx="415.12" cy="28.84" r="1.55" fill="#231f20" stroke="none" stroke-width="0.6"/>
<line x1="428.27" y1="27.66" x2="428.27" y2="30.02" stroke="#231f20" stroke-width="0.5" />
<line x1="426.87" y1="27.66" x2="429.67" y2="27.66" stroke="#231f20" stroke-width="0.5" />
<line x1="426.87" y1="30.02" x2="429.67" y2="30.02" stroke="#231f20" stroke-width="0.5" />
<circle cx="428.27" cy="28.84" r="1.55" fill="#231f20" stroke="none" stroke-width="0.6"/>
<line x1="441.20" y1="24.12" x2="441.20" y2="26.48" stroke="#231f20" stroke-width="0.5" />
<line x1="439.80" y1="24.12" x2="442.60" y2="24.12" stroke="#231f20" stroke-width="0.5" />
<line x1="439.80" y1="26.48" x2="442.60" y2="26.48" stroke="#231f20" stroke-width="0.5" />
<circle cx="441.20" cy="25.30" r="1.55" fill="#231f20" stroke="none" stroke-width="0.6"/>
<circle cx="323.03" cy="90.20" r="1.55" fill="#3850a2" stroke="none" stroke-width="0.6"/>
<line x1="336.18" y1="80.76" x2="336.18" y2="87.84" stroke="#3850a2" stroke-width="0.5" />
<line x1="334.78" y1="80.76" x2="337.58" y2="80.76" stroke="#3850a2" stroke-width="0.5" />
<line x1="334.78" y1="87.84" x2="337.58" y2="87.84" stroke="#3850a2" stroke-width="0.5" />
<circle cx="336.18" cy="84.30" r="1.55" fill="#3850a2" stroke="none" stroke-width="0.6"/>
<line x1="349.34" y1="74.86" x2="349.34" y2="81.94" stroke="#3850a2" stroke-width="0.5" />
<line x1="347.94" y1="74.86" x2="350.74" y2="74.86" stroke="#3850a2" stroke-width="0.5" />
<line x1="347.94" y1="81.94" x2="350.74" y2="81.94" stroke="#3850a2" stroke-width="0.5" />
<circle cx="349.34" cy="78.40" r="1.55" fill="#3850a2" stroke="none" stroke-width="0.6"/>
<line x1="362.49" y1="55.98" x2="362.49" y2="60.70" stroke="#3850a2" stroke-width="0.5" />
<line x1="361.09" y1="55.98" x2="363.89" y2="55.98" stroke="#3850a2" stroke-width="0.5" />
<line x1="361.09" y1="60.70" x2="363.89" y2="60.70" stroke="#3850a2" stroke-width="0.5" />
<circle cx="362.49" cy="58.34" r="1.55" fill="#3850a2" stroke="none" stroke-width="0.6"/>
<line x1="375.65" y1="34.74" x2="375.65" y2="41.82" stroke="#3850a2" stroke-width="0.5" />
<line x1="374.25" y1="34.74" x2="377.05" y2="34.74" stroke="#3850a2" stroke-width="0.5" />
<line x1="374.25" y1="41.82" x2="377.05" y2="41.82" stroke="#3850a2" stroke-width="0.5" />
<circle cx="375.65" cy="38.28" r="1.55" fill="#3850a2" stroke="none" stroke-width="0.6"/>
<line x1="388.81" y1="30.02" x2="388.81" y2="34.74" stroke="#3850a2" stroke-width="0.5" />
<line x1="387.41" y1="30.02" x2="390.21" y2="30.02" stroke="#3850a2" stroke-width="0.5" />
<line x1="387.41" y1="34.74" x2="390.21" y2="34.74" stroke="#3850a2" stroke-width="0.5" />
<circle cx="388.81" cy="32.38" r="1.55" fill="#3850a2" stroke="none" stroke-width="0.6"/>
<line x1="401.96" y1="28.84" x2="401.96" y2="33.56" stroke="#3850a2" stroke-width="0.5" />
<line x1="400.56" y1="28.84" x2="403.36" y2="28.84" stroke="#3850a2" stroke-width="0.5" />
<line x1="400.56" y1="33.56" x2="403.36" y2="33.56" stroke="#3850a2" stroke-width="0.5" />
<circle cx="401.96" cy="31.20" r="1.55" fill="#3850a2" stroke="none" stroke-width="0.6"/>
<line x1="415.12" y1="28.84" x2="415.12" y2="33.56" stroke="#3850a2" stroke-width="0.5" />
<line x1="413.72" y1="28.84" x2="416.52" y2="28.84" stroke="#3850a2" stroke-width="0.5" />
<line x1="413.72" y1="33.56" x2="416.52" y2="33.56" stroke="#3850a2" stroke-width="0.5" />
<circle cx="415.12" cy="31.20" r="1.55" fill="#3850a2" stroke="none" stroke-width="0.6"/>
<line x1="428.27" y1="28.84" x2="428.27" y2="33.56" stroke="#3850a2" stroke-width="0.5" />
<line x1="426.87" y1="28.84" x2="429.67" y2="28.84" stroke="#3850a2" stroke-width="0.5" />
<line x1="426.87" y1="33.56" x2="429.67" y2="33.56" stroke="#3850a2" stroke-width="0.5" />
<circle cx="428.27" cy="31.20" r="1.55" fill="#3850a2" stroke="none" stroke-width="0.6"/>
<line x1="441.20" y1="27.66" x2="441.20" y2="32.38" stroke="#3850a2" stroke-width="0.5" />
<line x1="439.80" y1="27.66" x2="442.60" y2="27.66" stroke="#3850a2" stroke-width="0.5" />
<line x1="439.80" y1="32.38" x2="442.60" y2="32.38" stroke="#3850a2" stroke-width="0.5" />
<circle cx="441.20" cy="30.02" r="1.55" fill="#3850a2" stroke="none" stroke-width="0.6"/>
<circle cx="323.03" cy="90.20" r="1.55" fill="#33b04a" stroke="none" stroke-width="0.6"/>
<line x1="336.18" y1="86.66" x2="336.18" y2="93.74" stroke="#33b04a" stroke-width="0.5" />
<line x1="334.78" y1="86.66" x2="337.58" y2="86.66" stroke="#33b04a" stroke-width="0.5" />
<line x1="334.78" y1="93.74" x2="337.58" y2="93.74" stroke="#33b04a" stroke-width="0.5" />
<circle cx="336.18" cy="90.20" r="1.55" fill="#33b04a" stroke="none" stroke-width="0.6"/>
<line x1="349.34" y1="85.48" x2="349.34" y2="94.92" stroke="#33b04a" stroke-width="0.5" />
<line x1="347.94" y1="85.48" x2="350.74" y2="85.48" stroke="#33b04a" stroke-width="0.5" />
<line x1="347.94" y1="94.92" x2="350.74" y2="94.92" stroke="#33b04a" stroke-width="0.5" />
<circle cx="349.34" cy="90.20" r="1.55" fill="#33b04a" stroke="none" stroke-width="0.6"/>
<line x1="362.49" y1="85.48" x2="362.49" y2="94.92" stroke="#33b04a" stroke-width="0.5" />
<line x1="361.09" y1="85.48" x2="363.89" y2="85.48" stroke="#33b04a" stroke-width="0.5" />
<line x1="361.09" y1="94.92" x2="363.89" y2="94.92" stroke="#33b04a" stroke-width="0.5" />
<circle cx="362.49" cy="90.20" r="1.55" fill="#33b04a" stroke="none" stroke-width="0.6"/>
<line x1="375.65" y1="84.30" x2="375.65" y2="91.38" stroke="#33b04a" stroke-width="0.5" />
<line x1="374.25" y1="84.30" x2="377.05" y2="84.30" stroke="#33b04a" stroke-width="0.5" />
<line x1="374.25" y1="91.38" x2="377.05" y2="91.38" stroke="#33b04a" stroke-width="0.5" />
<circle cx="375.65" cy="87.84" r="1.55" fill="#33b04a" stroke="none" stroke-width="0.6"/>
<line x1="388.81" y1="79.58" x2="388.81" y2="84.30" stroke="#33b04a" stroke-width="0.5" />
<line x1="387.41" y1="79.58" x2="390.21" y2="79.58" stroke="#33b04a" stroke-width="0.5" />
<line x1="387.41" y1="84.30" x2="390.21" y2="84.30" stroke="#33b04a" stroke-width="0.5" />
<circle cx="388.81" cy="81.94" r="1.55" fill="#33b04a" stroke="none" stroke-width="0.6"/>
<line x1="401.96" y1="65.42" x2="401.96" y2="72.50" stroke="#33b04a" stroke-width="0.5" />
<line x1="400.56" y1="65.42" x2="403.36" y2="65.42" stroke="#33b04a" stroke-width="0.5" />
<line x1="400.56" y1="72.50" x2="403.36" y2="72.50" stroke="#33b04a" stroke-width="0.5" />
<circle cx="401.96" cy="68.96" r="1.55" fill="#33b04a" stroke="none" stroke-width="0.6"/>
<line x1="415.12" y1="59.52" x2="415.12" y2="68.96" stroke="#33b04a" stroke-width="0.5" />
<line x1="413.72" y1="59.52" x2="416.52" y2="59.52" stroke="#33b04a" stroke-width="0.5" />
<line x1="413.72" y1="68.96" x2="416.52" y2="68.96" stroke="#33b04a" stroke-width="0.5" />
<circle cx="415.12" cy="64.24" r="1.55" fill="#33b04a" stroke="none" stroke-width="0.6"/>
<line x1="428.27" y1="63.06" x2="428.27" y2="70.14" stroke="#33b04a" stroke-width="0.5" />
<line x1="426.87" y1="63.06" x2="429.67" y2="63.06" stroke="#33b04a" stroke-width="0.5" />
<line x1="426.87" y1="70.14" x2="429.67" y2="70.14" stroke="#33b04a" stroke-width="0.5" />
<circle cx="428.27" cy="66.60" r="1.55" fill="#33b04a" stroke="none" stroke-width="0.6"/>
<line x1="441.20" y1="63.06" x2="441.20" y2="70.14" stroke="#33b04a" stroke-width="0.5" />
<line x1="439.80" y1="63.06" x2="442.60" y2="63.06" stroke="#33b04a" stroke-width="0.5" />
<line x1="439.80" y1="70.14" x2="442.60" y2="70.14" stroke="#33b04a" stroke-width="0.5" />
<circle cx="441.20" cy="66.60" r="1.55" fill="#33b04a" stroke="none" stroke-width="0.6"/>
<circle cx="323.03" cy="90.20" r="1.55" fill="#86439a" stroke="none" stroke-width="0.6"/>
<line x1="336.18" y1="84.30" x2="336.18" y2="96.10" stroke="#86439a" stroke-width="0.5" />
<line x1="334.78" y1="84.30" x2="337.58" y2="84.30" stroke="#86439a" stroke-width="0.5" />
<line x1="334.78" y1="96.10" x2="337.58" y2="96.10" stroke="#86439a" stroke-width="0.5" />
<circle cx="336.18" cy="90.20" r="1.55" fill="#86439a" stroke="none" stroke-width="0.6"/>
<line x1="349.34" y1="87.84" x2="349.34" y2="99.64" stroke="#86439a" stroke-width="0.5" />
<line x1="347.94" y1="87.84" x2="350.74" y2="87.84" stroke="#86439a" stroke-width="0.5" />
<line x1="347.94" y1="99.64" x2="350.74" y2="99.64" stroke="#86439a" stroke-width="0.5" />
<circle cx="349.34" cy="93.74" r="1.55" fill="#86439a" stroke="none" stroke-width="0.6"/>
<line x1="362.49" y1="80.76" x2="362.49" y2="87.84" stroke="#86439a" stroke-width="0.5" />
<line x1="361.09" y1="80.76" x2="363.89" y2="80.76" stroke="#86439a" stroke-width="0.5" />
<line x1="361.09" y1="87.84" x2="363.89" y2="87.84" stroke="#86439a" stroke-width="0.5" />
<circle cx="362.49" cy="84.30" r="1.55" fill="#86439a" stroke="none" stroke-width="0.6"/>
<line x1="375.65" y1="65.42" x2="375.65" y2="72.50" stroke="#86439a" stroke-width="0.5" />
<line x1="374.25" y1="65.42" x2="377.05" y2="65.42" stroke="#86439a" stroke-width="0.5" />
<line x1="374.25" y1="72.50" x2="377.05" y2="72.50" stroke="#86439a" stroke-width="0.5" />
<circle cx="375.65" cy="68.96" r="1.55" fill="#86439a" stroke="none" stroke-width="0.6"/>
<line x1="388.81" y1="63.06" x2="388.81" y2="70.14" stroke="#86439a" stroke-width="0.5" />
<line x1="387.41" y1="63.06" x2="390.21" y2="63.06" stroke="#86439a" stroke-width="0.5" />
<line x1="387.41" y1="70.14" x2="390.21" y2="70.14" stroke="#86439a" stroke-width="0.5" />
<circle cx="388.81" cy="66.60" r="1.55" fill="#86439a" stroke="none" stroke-width="0.6"/>
<line x1="401.96" y1="64.24" x2="401.96" y2="68.96" stroke="#86439a" stroke-width="0.5" />
<line x1="400.56" y1="64.24" x2="403.36" y2="64.24" stroke="#86439a" stroke-width="0.5" />
<line x1="400.56" y1="68.96" x2="403.36" y2="68.96" stroke="#86439a" stroke-width="0.5" />
<circle cx="401.96" cy="66.60" r="1.55" fill="#86439a" stroke="none" stroke-width="0.6"/>
<line x1="415.12" y1="64.24" x2="415.12" y2="68.96" stroke="#86439a" stroke-width="0.5" />
<line x1="413.72" y1="64.24" x2="416.52" y2="64.24" stroke="#86439a" stroke-width="0.5" />
<line x1="413.72" y1="68.96" x2="416.52" y2="68.96" stroke="#86439a" stroke-width="0.5" />
<circle cx="415.12" cy="66.60" r="1.55" fill="#86439a" stroke="none" stroke-width="0.6"/>
<line x1="428.27" y1="59.52" x2="428.27" y2="73.68" stroke="#86439a" stroke-width="0.5" />
<line x1="426.87" y1="59.52" x2="429.67" y2="59.52" stroke="#86439a" stroke-width="0.5" />
<line x1="426.87" y1="73.68" x2="429.67" y2="73.68" stroke="#86439a" stroke-width="0.5" />
<circle cx="428.27" cy="66.60" r="1.55" fill="#86439a" stroke="none" stroke-width="0.6"/>
<line x1="441.20" y1="63.06" x2="441.20" y2="70.14" stroke="#86439a" stroke-width="0.5" />
<line x1="439.80" y1="63.06" x2="442.60" y2="63.06" stroke="#86439a" stroke-width="0.5" />
<line x1="439.80" y1="70.14" x2="442.60" y2="70.14" stroke="#86439a" stroke-width="0.5" />
<circle cx="441.20" cy="66.60" r="1.55" fill="#86439a" stroke="none" stroke-width="0.6"/>
<circle cx="323.03" cy="90.20" r="1.55" fill="#33b04a" stroke="none" stroke-width="0.6"/>
<line x1="336.18" y1="87.84" x2="336.18" y2="92.56" stroke="#33b04a" stroke-width="0.5" />
<line x1="334.78" y1="87.84" x2="337.58" y2="87.84" stroke="#33b04a" stroke-width="0.5" />
<line x1="334.78" y1="92.56" x2="337.58" y2="92.56" stroke="#33b04a" stroke-width="0.5" />
<circle cx="336.18" cy="90.20" r="1.55" fill="#33b04a" stroke="none" stroke-width="0.6"/>
<line x1="349.34" y1="86.66" x2="349.34" y2="91.38" stroke="#33b04a" stroke-width="0.5" />
<line x1="347.94" y1="86.66" x2="350.74" y2="86.66" stroke="#33b04a" stroke-width="0.5" />
<line x1="347.94" y1="91.38" x2="350.74" y2="91.38" stroke="#33b04a" stroke-width="0.5" />
<circle cx="349.34" cy="89.02" r="1.55" fill="#33b04a" stroke="none" stroke-width="0.6"/>
<line x1="362.49" y1="70.14" x2="362.49" y2="74.86" stroke="#33b04a" stroke-width="0.5" />
<line x1="361.09" y1="70.14" x2="363.89" y2="70.14" stroke="#33b04a" stroke-width="0.5" />
<line x1="361.09" y1="74.86" x2="363.89" y2="74.86" stroke="#33b04a" stroke-width="0.5" />
<circle cx="362.49" cy="72.50" r="1.55" fill="#33b04a" stroke="none" stroke-width="0.6"/>
<line x1="375.65" y1="40.64" x2="375.65" y2="45.36" stroke="#33b04a" stroke-width="0.5" />
<line x1="374.25" y1="40.64" x2="377.05" y2="40.64" stroke="#33b04a" stroke-width="0.5" />
<line x1="374.25" y1="45.36" x2="377.05" y2="45.36" stroke="#33b04a" stroke-width="0.5" />
<circle cx="375.65" cy="43.00" r="1.55" fill="#33b04a" stroke="none" stroke-width="0.6"/>
<line x1="388.81" y1="31.20" x2="388.81" y2="35.92" stroke="#33b04a" stroke-width="0.5" />
<line x1="387.41" y1="31.20" x2="390.21" y2="31.20" stroke="#33b04a" stroke-width="0.5" />
<line x1="387.41" y1="35.92" x2="390.21" y2="35.92" stroke="#33b04a" stroke-width="0.5" />
<circle cx="388.81" cy="33.56" r="1.55" fill="#33b04a" stroke="none" stroke-width="0.6"/>
<line x1="401.96" y1="30.02" x2="401.96" y2="34.74" stroke="#33b04a" stroke-width="0.5" />
<line x1="400.56" y1="30.02" x2="403.36" y2="30.02" stroke="#33b04a" stroke-width="0.5" />
<line x1="400.56" y1="34.74" x2="403.36" y2="34.74" stroke="#33b04a" stroke-width="0.5" />
<circle cx="401.96" cy="32.38" r="1.55" fill="#33b04a" stroke="none" stroke-width="0.6"/>
<line x1="415.12" y1="30.02" x2="415.12" y2="34.74" stroke="#33b04a" stroke-width="0.5" />
<line x1="413.72" y1="30.02" x2="416.52" y2="30.02" stroke="#33b04a" stroke-width="0.5" />
<line x1="413.72" y1="34.74" x2="416.52" y2="34.74" stroke="#33b04a" stroke-width="0.5" />
<circle cx="415.12" cy="32.38" r="1.55" fill="#33b04a" stroke="none" stroke-width="0.6"/>
<line x1="428.27" y1="28.84" x2="428.27" y2="33.56" stroke="#33b04a" stroke-width="0.5" />
<line x1="426.87" y1="28.84" x2="429.67" y2="28.84" stroke="#33b04a" stroke-width="0.5" />
<line x1="426.87" y1="33.56" x2="429.67" y2="33.56" stroke="#33b04a" stroke-width="0.5" />
<circle cx="428.27" cy="31.20" r="1.55" fill="#33b04a" stroke="none" stroke-width="0.6"/>
<line x1="441.20" y1="28.84" x2="441.20" y2="33.56" stroke="#33b04a" stroke-width="0.5" />
<line x1="439.80" y1="28.84" x2="442.60" y2="28.84" stroke="#33b04a" stroke-width="0.5" />
<line x1="439.80" y1="33.56" x2="442.60" y2="33.56" stroke="#33b04a" stroke-width="0.5" />
<circle cx="441.20" cy="31.20" r="1.55" fill="#33b04a" stroke="none" stroke-width="0.6"/>
<circle cx="323.03" cy="90.20" r="1.55" fill="#86439a" stroke="none" stroke-width="0.6"/>
<line x1="336.18" y1="74.86" x2="336.18" y2="93.74" stroke="#86439a" stroke-width="0.5" />
<line x1="334.78" y1="74.86" x2="337.58" y2="74.86" stroke="#86439a" stroke-width="0.5" />
<line x1="334.78" y1="93.74" x2="337.58" y2="93.74" stroke="#86439a" stroke-width="0.5" />
<circle cx="336.18" cy="84.30" r="1.55" fill="#86439a" stroke="none" stroke-width="0.6"/>
<line x1="349.34" y1="74.86" x2="349.34" y2="81.94" stroke="#86439a" stroke-width="0.5" />
<line x1="347.94" y1="74.86" x2="350.74" y2="74.86" stroke="#86439a" stroke-width="0.5" />
<line x1="347.94" y1="81.94" x2="350.74" y2="81.94" stroke="#86439a" stroke-width="0.5" />
<circle cx="349.34" cy="78.40" r="1.55" fill="#86439a" stroke="none" stroke-width="0.6"/>
<line x1="362.49" y1="55.98" x2="362.49" y2="60.70" stroke="#86439a" stroke-width="0.5" />
<line x1="361.09" y1="55.98" x2="363.89" y2="55.98" stroke="#86439a" stroke-width="0.5" />
<line x1="361.09" y1="60.70" x2="363.89" y2="60.70" stroke="#86439a" stroke-width="0.5" />
<circle cx="362.49" cy="58.34" r="1.55" fill="#86439a" stroke="none" stroke-width="0.6"/>
<line x1="375.65" y1="35.92" x2="375.65" y2="40.64" stroke="#86439a" stroke-width="0.5" />
<line x1="374.25" y1="35.92" x2="377.05" y2="35.92" stroke="#86439a" stroke-width="0.5" />
<line x1="374.25" y1="40.64" x2="377.05" y2="40.64" stroke="#86439a" stroke-width="0.5" />
<circle cx="375.65" cy="38.28" r="1.55" fill="#86439a" stroke="none" stroke-width="0.6"/>
<line x1="388.81" y1="30.02" x2="388.81" y2="34.74" stroke="#86439a" stroke-width="0.5" />
<line x1="387.41" y1="30.02" x2="390.21" y2="30.02" stroke="#86439a" stroke-width="0.5" />
<line x1="387.41" y1="34.74" x2="390.21" y2="34.74" stroke="#86439a" stroke-width="0.5" />
<circle cx="388.81" cy="32.38" r="1.55" fill="#86439a" stroke="none" stroke-width="0.6"/>
<line x1="401.96" y1="28.84" x2="401.96" y2="33.56" stroke="#86439a" stroke-width="0.5" />
<line x1="400.56" y1="28.84" x2="403.36" y2="28.84" stroke="#86439a" stroke-width="0.5" />
<line x1="400.56" y1="33.56" x2="403.36" y2="33.56" stroke="#86439a" stroke-width="0.5" />
<circle cx="401.96" cy="31.20" r="1.55" fill="#86439a" stroke="none" stroke-width="0.6"/>
<line x1="415.12" y1="28.84" x2="415.12" y2="33.56" stroke="#86439a" stroke-width="0.5" />
<line x1="413.72" y1="28.84" x2="416.52" y2="28.84" stroke="#86439a" stroke-width="0.5" />
<line x1="413.72" y1="33.56" x2="416.52" y2="33.56" stroke="#86439a" stroke-width="0.5" />
<circle cx="415.12" cy="31.20" r="1.55" fill="#86439a" stroke="none" stroke-width="0.6"/>
<line x1="428.27" y1="28.84" x2="428.27" y2="33.56" stroke="#86439a" stroke-width="0.5" />
<line x1="426.87" y1="28.84" x2="429.67" y2="28.84" stroke="#86439a" stroke-width="0.5" />
<line x1="426.87" y1="33.56" x2="429.67" y2="33.56" stroke="#86439a" stroke-width="0.5" />
<circle cx="428.27" cy="31.20" r="1.55" fill="#86439a" stroke="none" stroke-width="0.6"/>
<line x1="441.20" y1="27.66" x2="441.20" y2="32.38" stroke="#86439a" stroke-width="0.5" />
<line x1="439.80" y1="27.66" x2="442.60" y2="27.66" stroke="#86439a" stroke-width="0.5" />
<line x1="439.80" y1="32.38" x2="442.60" y2="32.38" stroke="#86439a" stroke-width="0.5" />
<circle cx="441.20" cy="30.02" r="1.55" fill="#86439a" stroke="none" stroke-width="0.6"/>
<line x1="311.20" y1="90.20" x2="451.70" y2="90.20" stroke="#000" stroke-width="1.3" stroke-dasharray="1.4 1.6"/>
<line x1="311.20" y1="7.60" x2="311.20" y2="102.00" stroke="#231f20" stroke-width="0.9" />
<line x1="310.75" y1="102.00" x2="451.70" y2="102.00" stroke="#231f20" stroke-width="0.9" />
<line x1="308.20" y1="90.20" x2="311.20" y2="90.20" stroke="#231f20" stroke-width="0.9" />
<text x="308.00" y="92.60" font-size="7.8" text-anchor="end" fill="#231f20" stroke="#231f20" stroke-width="0.1" >0</text>
<line x1="308.20" y1="66.60" x2="311.20" y2="66.60" stroke="#231f20" stroke-width="0.9" />
<text x="308.00" y="69.00" font-size="7.8" text-anchor="end" fill="#231f20" stroke="#231f20" stroke-width="0.1" >20</text>
<line x1="308.20" y1="43.00" x2="311.20" y2="43.00" stroke="#231f20" stroke-width="0.9" />
<text x="308.00" y="45.40" font-size="7.8" text-anchor="end" fill="#231f20" stroke="#231f20" stroke-width="0.1" >40</text>
<line x1="308.20" y1="19.40" x2="311.20" y2="19.40" stroke="#231f20" stroke-width="0.9" />
<text x="308.00" y="21.80" font-size="7.8" text-anchor="end" fill="#231f20" stroke="#231f20" stroke-width="0.1" >60</text>
<line x1="331.95" y1="102.00" x2="331.95" y2="105.00" stroke="#231f20" stroke-width="0.9" />
<text x="331.95" y="113.20" font-size="7.6" text-anchor="middle" fill="#231f20" stroke="#231f20" stroke-width="0.1" >0.01</text>
<line x1="353.80" y1="102.00" x2="353.80" y2="105.00" stroke="#231f20" stroke-width="0.9" />
<text x="353.80" y="113.20" font-size="7.6" text-anchor="middle" fill="#231f20" stroke="#231f20" stroke-width="0.1" >0.1</text>
<line x1="375.65" y1="102.00" x2="375.65" y2="105.00" stroke="#231f20" stroke-width="0.9" />
<text x="375.65" y="113.20" font-size="7.6" text-anchor="middle" fill="#231f20" stroke="#231f20" stroke-width="0.1" >1</text>
<line x1="397.50" y1="102.00" x2="397.50" y2="105.00" stroke="#231f20" stroke-width="0.9" />
<text x="397.50" y="113.20" font-size="7.6" text-anchor="middle" fill="#231f20" stroke="#231f20" stroke-width="0.1" >10</text>
<line x1="419.35" y1="102.00" x2="419.35" y2="105.00" stroke="#231f20" stroke-width="0.9" />
<text x="419.35" y="113.20" font-size="7.6" text-anchor="middle" fill="#231f20" stroke="#231f20" stroke-width="0.1" >100</text>
<line x1="441.20" y1="102.00" x2="441.20" y2="105.00" stroke="#231f20" stroke-width="0.9" />
<text x="441.20" y="113.20" font-size="7.6" text-anchor="middle" fill="#231f20" stroke="#231f20" stroke-width="0.1" >1,000</text>
<text x="383.80" y="125.10" font-size="7.4" text-anchor="middle" fill="#231f20" stroke="#231f20" stroke-width="0.2" font-weight="bold" >Concentration (nmol/L)</text>
<text x="292.20" y="57.00" font-size="7.6" text-anchor="middle" fill="#231f20" stroke="#231f20" stroke-width="0.2" font-weight="bold" transform="rotate(-90 292.20 57.00)" >Cell growth inhibition (%)</text>
<line x1="449.20" y1="33.90" x2="458.80" y2="33.90" stroke="#231f20" stroke-width="0.6" />
<circle cx="454.00" cy="33.90" r="1.6" fill="#231f20" stroke="none" stroke-width="0.6"/>
<text x="463.50" y="36.20" font-size="7.55" text-anchor="start" fill="#231f20" stroke="#231f20" stroke-width="0.1" >Fulvestrant</text>
<line x1="449.20" y1="43.50" x2="458.80" y2="43.50" stroke="#3850a2" stroke-width="0.6" />
<circle cx="454.00" cy="43.50" r="1.6" fill="#3850a2" stroke="none" stroke-width="0.6"/>
<text x="463.50" y="45.80" font-size="7.55" text-anchor="start" fill="#231f20" stroke="#231f20" stroke-width="0.1" >SAR439859</text>
<line x1="449.20" y1="53.00" x2="458.80" y2="53.00" stroke="#33b04a" stroke-width="0.6" />
<circle cx="454.00" cy="53.00" r="1.6" fill="#33b04a" stroke="none" stroke-width="0.6"/>
<text x="463.50" y="55.30" font-size="7.55" text-anchor="start" fill="#231f20" stroke="#231f20" stroke-width="0.1" >GDC0810</text>
<line x1="449.20" y1="62.30" x2="458.80" y2="62.30" stroke="#86439a" stroke-width="0.6" />
<circle cx="454.00" cy="62.30" r="1.6" fill="#86439a" stroke="none" stroke-width="0.6"/>
<text x="463.50" y="64.60" font-size="7.55" text-anchor="start" fill="#231f20" stroke="#231f20" stroke-width="0.1" >AZD9496</text>
<line x1="449.20" y1="71.50" x2="458.80" y2="71.50" stroke="#33b04a" stroke-width="0.6" stroke-dasharray="1.6 1.2"/>
<circle cx="454.00" cy="71.50" r="1.6" fill="#33b04a" stroke="none" stroke-width="0.6"/>
<text x="463.50" y="73.80" font-size="7.55" text-anchor="start" fill="#231f20" stroke="#231f20" stroke-width="0.1" >GDC-SAR</text>
<line x1="449.20" y1="81.00" x2="458.80" y2="81.00" stroke="#86439a" stroke-width="0.6" stroke-dasharray="1.6 1.2"/>
<circle cx="454.00" cy="81.00" r="1.6" fill="#86439a" stroke="none" stroke-width="0.6"/>
<text x="463.50" y="83.30" font-size="7.55" text-anchor="start" fill="#231f20" stroke="#231f20" stroke-width="0.1" >AZD-SAR</text>
<circle cx="53.00" cy="156.00" r="1.9" fill="#2e3c94" stroke="none" stroke-width="0.6"/>
<text x="59.20" y="158.30" font-size="7.5" text-anchor="start" fill="#231f20" stroke="#231f20" stroke-width="0.1" >MCF7</text>
<circle cx="125.50" cy="156.00" r="1.5999999999999999" fill="#fff" stroke="#2e3c94" stroke-width="0.6"/>
<text x="132.00" y="158.30" font-size="7.5" text-anchor="start" fill="#231f20" stroke="#231f20" stroke-width="0.1" >MCF7</text>
<rect x="51.10" y="163.60" width="3.80" height="3.80" fill="#e5202a" stroke="none" stroke-width="0.6"/>
<text x="59.20" y="167.80" font-size="7.5" text-anchor="start" fill="#231f20" stroke="#231f20" stroke-width="0.1" >HCC1428</text>
<rect x="123.90" y="163.90" width="3.20" height="3.20" fill="#fff" stroke="#e5202a" stroke-width="0.7"/>
<text x="132.00" y="167.80" font-size="7.5" text-anchor="start" fill="#231f20" stroke="#231f20" stroke-width="0.1" >HCC1428</text>
<polygon points="53.00,172.70 50.90,176.48 55.10,176.48" fill="#31b24a"/>
<text x="59.20" y="177.10" font-size="7.5" text-anchor="start" fill="#231f20" stroke="#231f20" stroke-width="0.1" >HCC1428-LTED</text>
<polygon points="125.50,172.70 123.40,176.48 127.60,176.48" fill="#fff" stroke="#31b24a" stroke-width="0.7"/>
<text x="132.00" y="177.10" font-size="7.5" text-anchor="start" fill="#231f20" stroke="#231f20" stroke-width="0.1" >HCC1428-LTED</text>
<polygon points="53.00,186.20 50.90,182.42 55.10,182.42" fill="#7d4199"/>
<text x="59.20" y="186.40" font-size="7.5" text-anchor="start" fill="#231f20" stroke="#231f20" stroke-width="0.1" >HCC1500</text>
<polygon points="125.50,186.20 123.40,182.42 127.60,182.42" fill="#fff" stroke="#7d4199" stroke-width="0.7"/>
<text x="132.00" y="186.40" font-size="7.5" text-anchor="start" fill="#231f20" stroke="#231f20" stroke-width="0.1" >HCC1500</text>
<polygon points="53.00,191.40 50.90,193.50 53.00,195.60 55.10,193.50" fill="#f4812a"/>
<text x="59.20" y="195.80" font-size="7.5" text-anchor="start" fill="#231f20" stroke="#231f20" stroke-width="0.1" >MDAMB134VI</text>
<polygon points="125.50,191.40 123.40,193.50 125.50,195.60 127.60,193.50" fill="#fff" stroke="#f4812a" stroke-width="0.7"/>
<text x="132.00" y="195.80" font-size="7.5" text-anchor="start" fill="#231f20" stroke="#231f20" stroke-width="0.1" >MDAMB134VI</text>
<circle cx="53.00" cy="202.80" r="1.9" fill="#000" stroke="none" stroke-width="0.6"/>
<text x="59.20" y="205.10" font-size="7.5" text-anchor="start" fill="#231f20" stroke="#231f20" stroke-width="0.1" >SUM44PE</text>
<circle cx="125.50" cy="202.80" r="1.5999999999999999" fill="#fff" stroke="#000" stroke-width="0.7"/>
<path d="M123.60 202.80 A1.9 1.9 0 0 1 127.40 202.80 Z" fill="#000"/>
<text x="132.00" y="205.10" font-size="7.5" text-anchor="start" fill="#231f20" stroke="#231f20" stroke-width="0.1" >SUM44PE</text>
<circle cx="57.40" cy="227.00" r="2.2" fill="#2e3c94" stroke="none" stroke-width="0.6"/>
<rect x="55.20" y="224.80" width="4.40" height="4.40" fill="#4a3d90" stroke="none" stroke-width="0.6"/>
<polygon points="81.90,232.77 79.40,237.27 84.40,237.27" fill="#31b24a"/>
<rect x="79.70" y="228.93" width="4.40" height="4.40" fill="#e5202a" stroke="none" stroke-width="0.6"/>
<circle cx="81.90" cy="229.07" r="2" fill="#7d4199" stroke="none" stroke-width="0.6"/>
<rect x="79.70" y="224.46" width="4.40" height="4.40" fill="#3d3f95" stroke="none" stroke-width="0.6"/>
<circle cx="106.40" cy="227.00" r="2.2" fill="#2e3c94" stroke="none" stroke-width="0.6"/>
<circle cx="106.40" cy="233.89" r="2.2" fill="#fff" stroke="#2e3c94" stroke-width="0.6"/>
<polygon points="106.40,259.82 103.90,255.32 108.90,255.32" fill="#7d4199"/>
<rect x="104.40" y="261.52" width="4.00" height="4.00" fill="#f4812a" stroke="#e5202a" stroke-width="0.6"/>
<polygon points="106.40,275.66 103.90,271.16 108.90,271.16" fill="#fff" stroke="#c0609c" stroke-width="0.7"/>
<circle cx="106.40" cy="281.43" r="2.2" fill="#000" stroke="none" stroke-width="0.6"/>
<polygon points="106.40,279.93 104.90,282.63 107.90,282.63" fill="#31b24a"/>
<circle cx="106.40" cy="289.01" r="2.0" fill="#000" stroke="none" stroke-width="0.6"/>
<rect x="104.20" y="288.88" width="4.40" height="4.40" fill="#e5202a" stroke="none" stroke-width="0.6"/>
<circle cx="130.70" cy="227.00" r="2.2" fill="#2e3c94" stroke="none" stroke-width="0.6"/>
<circle cx="130.70" cy="231.13" r="2.2" fill="#fff" stroke="#2e3c94" stroke-width="0.6"/>
<polygon points="130.70,260.50 128.20,256.00 133.20,256.00" fill="#7d4199"/>
<polygon points="130.70,257.88 129.20,259.38 130.70,260.88 132.20,259.38" fill="#f4812a"/>
<circle cx="130.70" cy="264.89" r="2.2" fill="#fff" stroke="#e5202a" stroke-width="0.6"/>
<rect x="129.00" y="268.71" width="3.40" height="3.40" fill="#fff" stroke="#31b24a" stroke-width="0.7"/>
<polygon points="130.70,278.42 128.20,273.92 133.20,273.92" fill="#fff" stroke="#7d4199" stroke-width="0.7"/>
<circle cx="130.70" cy="280.05" r="1.9000000000000001" fill="#fff" stroke="#000" stroke-width="0.7"/>
<path d="M128.50 280.05 A2.2 2.2 0 0 1 132.90 280.05 Z" fill="#000"/>
<polygon points="130.70,283.75 128.20,288.25 133.20,288.25" fill="#31b24a"/>
<rect x="128.50" y="299.90" width="4.40" height="4.40" fill="#e5202a" stroke="none" stroke-width="0.6"/>
<circle cx="130.70" cy="313.12" r="2.2" fill="#000" stroke="none" stroke-width="0.6"/>
<rect x="152.70" y="242.71" width="4.40" height="4.40" fill="#e5202a" stroke="none" stroke-width="0.6"/>
<polygon points="154.90,238.28 152.40,242.78 157.40,242.78" fill="#31b24a"/>
<circle cx="154.90" cy="236.65" r="2" fill="#7d4199" stroke="none" stroke-width="0.6"/>
<circle cx="154.90" cy="232.51" r="1.9000000000000001" fill="#fff" stroke="#2e3c94" stroke-width="0.6"/>
<circle cx="154.90" cy="229.76" r="2.2" fill="#2e3c94" stroke="none" stroke-width="0.6"/>
<polygon points="154.90,223.12 152.40,227.62 157.40,227.62" fill="#fff" stroke="#9ad6a4" stroke-width="0.7"/>
<circle cx="154.90" cy="227.69" r="2" fill="#5566b0" stroke="none" stroke-width="0.6"/>
<polygon points="179.30,236.90 176.80,241.40 181.80,241.40" fill="#31b24a"/>
<rect x="177.10" y="233.07" width="4.40" height="4.40" fill="#e5202a" stroke="none" stroke-width="0.6"/>
<circle cx="179.30" cy="231.82" r="2" fill="#7d4199" stroke="none" stroke-width="0.6"/>
<polygon points="179.30,225.98 176.90,228.38 179.30,230.78 181.70,228.38" fill="#f4812a"/>
<circle cx="179.30" cy="226.31" r="2" fill="#000" stroke="none" stroke-width="0.6"/>
<circle cx="179.30" cy="222.87" r="2.2" fill="#2e3c94" stroke="none" stroke-width="0.6"/>
<line x1="40.80" y1="295.90" x2="195.80" y2="295.90" stroke="#000" stroke-width="1.3" stroke-dasharray="1.4 1.6"/>
<line x1="40.80" y1="213.22" x2="40.80" y2="316.57" stroke="#231f20" stroke-width="0.9" />
<line x1="40.35" y1="316.57" x2="196.25" y2="316.57" stroke="#231f20" stroke-width="0.9" />
<line x1="195.80" y1="213.22" x2="195.80" y2="316.57" stroke="#231f20" stroke-width="0.9" />
<line x1="37.80" y1="309.68" x2="40.80" y2="309.68" stroke="#231f20" stroke-width="0.9" />
<line x1="195.80" y1="309.68" x2="198.80" y2="309.68" stroke="#231f20" stroke-width="0.9" />
<text x="36.30" y="312.38" font-size="7.45" text-anchor="end" fill="#231f20" stroke="#231f20" stroke-width="0.1" >−20</text>
<text x="200.30" y="312.38" font-size="7.35" text-anchor="start" fill="#231f20" stroke="#231f20" stroke-width="0.1" >−20</text>
<line x1="37.80" y1="295.90" x2="40.80" y2="295.90" stroke="#231f20" stroke-width="0.9" />
<line x1="195.80" y1="295.90" x2="198.80" y2="295.90" stroke="#231f20" stroke-width="0.9" />
<text x="36.30" y="298.60" font-size="7.45" text-anchor="end" fill="#231f20" stroke="#231f20" stroke-width="0.1" >0</text>
<text x="201.00" y="298.60" font-size="7.35" text-anchor="start" fill="#231f20" stroke="#231f20" stroke-width="0.1" >0</text>
<line x1="37.80" y1="282.12" x2="40.80" y2="282.12" stroke="#231f20" stroke-width="0.9" />
<line x1="195.80" y1="282.12" x2="198.80" y2="282.12" stroke="#231f20" stroke-width="0.9" />
<text x="36.30" y="284.82" font-size="7.45" text-anchor="end" fill="#231f20" stroke="#231f20" stroke-width="0.1" >20</text>
<text x="201.00" y="284.82" font-size="7.35" text-anchor="start" fill="#231f20" stroke="#231f20" stroke-width="0.1" >20</text>
<line x1="37.80" y1="268.34" x2="40.80" y2="268.34" stroke="#231f20" stroke-width="0.9" />
<line x1="195.80" y1="268.34" x2="198.80" y2="268.34" stroke="#231f20" stroke-width="0.9" />
<text x="36.30" y="271.04" font-size="7.45" text-anchor="end" fill="#231f20" stroke="#231f20" stroke-width="0.1" >40</text>
<text x="201.00" y="271.04" font-size="7.35" text-anchor="start" fill="#231f20" stroke="#231f20" stroke-width="0.1" >40</text>
<line x1="37.80" y1="254.56" x2="40.80" y2="254.56" stroke="#231f20" stroke-width="0.9" />
<line x1="195.80" y1="254.56" x2="198.80" y2="254.56" stroke="#231f20" stroke-width="0.9" />
<text x="36.30" y="257.26" font-size="7.45" text-anchor="end" fill="#231f20" stroke="#231f20" stroke-width="0.1" >60</text>
<text x="201.00" y="257.26" font-size="7.35" text-anchor="start" fill="#231f20" stroke="#231f20" stroke-width="0.1" >60</text>
<line x1="37.80" y1="240.78" x2="40.80" y2="240.78" stroke="#231f20" stroke-width="0.9" />
<line x1="195.80" y1="240.78" x2="198.80" y2="240.78" stroke="#231f20" stroke-width="0.9" />
<text x="36.30" y="243.48" font-size="7.45" text-anchor="end" fill="#231f20" stroke="#231f20" stroke-width="0.1" >80</text>
<text x="201.00" y="243.48" font-size="7.35" text-anchor="start" fill="#231f20" stroke="#231f20" stroke-width="0.1" >80</text>
<line x1="37.80" y1="227.00" x2="40.80" y2="227.00" stroke="#231f20" stroke-width="0.9" />
<line x1="195.80" y1="227.00" x2="198.80" y2="227.00" stroke="#231f20" stroke-width="0.9" />
<text x="36.30" y="229.70" font-size="7.45" text-anchor="end" fill="#231f20" stroke="#231f20" stroke-width="0.1" >100</text>
<text x="201.00" y="229.70" font-size="7.35" text-anchor="start" fill="#231f20" stroke="#231f20" stroke-width="0.1" >100</text>
<line x1="37.80" y1="213.22" x2="40.80" y2="213.22" stroke="#231f20" stroke-width="0.9" />
<line x1="195.80" y1="213.22" x2="198.80" y2="213.22" stroke="#231f20" stroke-width="0.9" />
<text x="36.30" y="215.92" font-size="7.45" text-anchor="end" fill="#231f20" stroke="#231f20" stroke-width="0.1" >120</text>
<text x="201.00" y="215.92" font-size="7.35" text-anchor="start" fill="#231f20" stroke="#231f20" stroke-width="0.1" >120</text>
<line x1="57.40" y1="316.57" x2="57.40" y2="319.57" stroke="#231f20" stroke-width="0.9" />
<text x="59.90" y="327.57" font-size="7.3" text-anchor="end" fill="#231f20" stroke="#231f20" stroke-width="0.1" transform="rotate(-45 59.90 327.57)" >Fulvestrant</text>
<line x1="81.90" y1="316.57" x2="81.90" y2="319.57" stroke="#231f20" stroke-width="0.9" />
<text x="84.40" y="327.57" font-size="7.3" text-anchor="end" fill="#231f20" stroke="#231f20" stroke-width="0.1" transform="rotate(-45 84.40 327.57)" >SAR439859</text>
<line x1="106.40" y1="316.57" x2="106.40" y2="319.57" stroke="#231f20" stroke-width="0.9" />
<text x="108.90" y="327.57" font-size="7.3" text-anchor="end" fill="#231f20" stroke="#231f20" stroke-width="0.1" transform="rotate(-45 108.90 327.57)" >GDC0810</text>
<line x1="130.70" y1="316.57" x2="130.70" y2="319.57" stroke="#231f20" stroke-width="0.9" />
<text x="133.20" y="327.57" font-size="7.3" text-anchor="end" fill="#231f20" stroke="#231f20" stroke-width="0.1" transform="rotate(-45 133.20 327.57)" >AZD9496</text>
<line x1="154.90" y1="316.57" x2="154.90" y2="319.57" stroke="#231f20" stroke-width="0.9" />
<text x="157.40" y="327.57" font-size="7.3" text-anchor="end" fill="#231f20" stroke="#231f20" stroke-width="0.1" transform="rotate(-45 157.40 327.57)" >GDC-SAR</text>
<line x1="179.30" y1="316.57" x2="179.30" y2="319.57" stroke="#231f20" stroke-width="0.9" />
<text x="181.80" y="327.57" font-size="7.3" text-anchor="end" fill="#231f20" stroke="#231f20" stroke-width="0.1" transform="rotate(-45 181.80 327.57)" >AZD-SAR</text>
<text transform="translate(11.6 262.89) rotate(-90)" font-size="7.4" font-weight="bold" text-anchor="middle" fill="#231f20">ERα degradation <tspan font-style="italic">E</tspan><tspan font-size="4.5" dy="1.5">max</tspan></text>
<text x="20.70" y="262.59" font-size="7.4" text-anchor="middle" fill="#231f20" stroke="#231f20" stroke-width="0.2" font-weight="bold" transform="rotate(-90 20.70 262.59)" >(% fulvestrant)</text>
<text transform="translate(228.5 262.89) rotate(90)" font-size="7.4" font-weight="bold" text-anchor="middle" fill="#231f20">Growth inhibition <tspan font-style="italic">E</tspan><tspan font-size="4.5" dy="1.5">max</tspan></text>
<text x="221.20" y="264.09" font-size="7.6" text-anchor="middle" fill="#231f20" stroke="#231f20" stroke-width="0.2" font-weight="bold" transform="rotate(90 221.20 264.09)" >(% fulvestrant)</text>
<defs>
<linearGradient id="bd" x1="0" y1="0" x2="0" y2="1"><stop offset="0" stop-color="#c8c8c8"/><stop offset="0.22" stop-color="#3a3a3a"/><stop offset="0.42" stop-color="#050505"/><stop offset="0.78" stop-color="#000"/><stop offset="0.92" stop-color="#444"/><stop offset="1" stop-color="#ccc"/></linearGradient>
<linearGradient id="bl" x1="0" y1="0" x2="0" y2="1"><stop offset="0" stop-color="#fff"/><stop offset="0.45" stop-color="#c4c4c4"/><stop offset="0.65" stop-color="#b0b0b0"/><stop offset="1" stop-color="#fff"/></linearGradient>
<linearGradient id="bl2" x1="0" y1="0" x2="0" y2="1"><stop offset="0" stop-color="#fff"/><stop offset="0.45" stop-color="#b0b0b0"/><stop offset="0.65" stop-color="#9c9c9c"/><stop offset="1" stop-color="#fff"/></linearGradient>
<linearGradient id="ba" x1="0" y1="0" x2="0" y2="1"><stop offset="0" stop-color="#d0d0d0"/><stop offset="0.4" stop-color="#2a2a2a"/><stop offset="0.65" stop-color="#333"/><stop offset="1" stop-color="#d8d8d8"/></linearGradient>
<linearGradient id="ba2" x1="0" y1="0" x2="0" y2="1"><stop offset="0" stop-color="#e0e0e0"/><stop offset="0.45" stop-color="#4c4c4c"/><stop offset="0.65" stop-color="#555"/><stop offset="1" stop-color="#e0e0e0"/></linearGradient>
</defs>
<rect x="335.20" y="167.70" width="11.2" height="9.6" fill="url(#bd)"/>
<rect x="335.20" y="186.20" width="11.2" height="3.60" fill="url(#ba2)"/>
<rect x="348.17" y="167.70" width="11.2" height="9.6" fill="url(#bd)"/>
<rect x="348.17" y="185.70" width="11.2" height="4.60" fill="url(#ba)"/>
<rect x="361.14" y="169.70" width="11.2" height="5.6" fill="url(#bl)"/>
<rect x="361.14" y="185.60" width="11.2" height="3.80" fill="url(#ba)"/>
<rect x="374.11" y="170.70" width="11.2" height="5.6" fill="url(#bl)"/>
<rect x="374.11" y="186.30" width="11.2" height="3.90" fill="url(#ba)"/>
<rect x="387.08" y="170.40" width="11.2" height="5.6" fill="url(#bl2)"/>
<rect x="387.08" y="186.80" width="11.2" height="3.20" fill="url(#ba)"/>
<rect x="400.05" y="170.40" width="11.2" height="5.6" fill="url(#bl)"/>
<rect x="400.05" y="186.20" width="11.2" height="3.70" fill="url(#ba2)"/>
<rect x="413.02" y="168.30" width="11.2" height="9.6" fill="url(#bd)"/>
<rect x="413.02" y="185.70" width="11.2" height="4.60" fill="url(#ba)"/>
<rect x="425.99" y="168.30" width="11.2" height="9.6" fill="url(#bd)"/>
<rect x="425.99" y="185.70" width="11.2" height="4.00" fill="url(#ba2)"/>
<rect x="438.96" y="168.30" width="11.2" height="9.6" fill="url(#bd)"/>
<rect x="438.96" y="186.40" width="11.2" height="3.40" fill="url(#ba2)"/>
<rect x="451.93" y="168.30" width="11.2" height="9.6" fill="url(#bd)"/>
<rect x="451.93" y="186.00" width="11.2" height="4.20" fill="url(#ba)"/>
<text x="330.30" y="176.30" font-size="7.4" text-anchor="end" fill="#231f20" stroke="#231f20" stroke-width="0.1" >ERα</text>
<text x="331.80" y="191.20" font-size="6.9" text-anchor="end" fill="#231f20" stroke="#231f20" stroke-width="0.1" >β-Actin</text>
<text x="466.20" y="174.80" font-size="7.4" text-anchor="start" fill="#231f20" stroke="#231f20" stroke-width="0.1" textLength="20.4" lengthAdjust="spacingAndGlyphs">66 kDa</text>
<text x="466.20" y="190.00" font-size="7.4" text-anchor="start" fill="#231f20" stroke="#231f20" stroke-width="0.1" textLength="20.4" lengthAdjust="spacingAndGlyphs">40 kDa</text>
<text x="346.00" y="166.60" font-size="7.4" text-anchor="start" fill="#231f20" stroke="#231f20" stroke-width="0.1" transform="rotate(-45 346.00 166.60)" >Control</text>
<text x="371.30" y="166.60" font-size="7.4" text-anchor="start" fill="#231f20" stroke="#231f20" stroke-width="0.1" transform="rotate(-45 371.30 166.60)" >Fulvestrant</text>
<text x="398.50" y="166.60" font-size="7.4" text-anchor="start" fill="#231f20" stroke="#231f20" stroke-width="0.1" transform="rotate(-45 398.50 166.60)" >SAR439859</text>
<text x="424.00" y="166.60" font-size="7.4" text-anchor="start" fill="#231f20" stroke="#231f20" stroke-width="0.1" transform="rotate(-45 424.00 166.60)" >GDC0810</text>
<text x="450.50" y="166.60" font-size="7.4" text-anchor="start" fill="#231f20" stroke="#231f20" stroke-width="0.1" transform="rotate(-45 450.50 166.60)" >AZD9496</text>
<line x1="352.70" y1="243.00" x2="352.70" y2="228.84" stroke="#555" stroke-width="0.8" />
<line x1="347.90" y1="228.84" x2="357.50" y2="228.84" stroke="#555" stroke-width="0.8" />
<rect x="344.30" y="243.00" width="16.80" height="74.50" fill="#231f20" stroke="none" stroke-width="0.6"/>
<line x1="378.70" y1="311.17" x2="378.70" y2="308.56" stroke="#6a6a6c" stroke-width="0.8" />
<line x1="373.90" y1="308.56" x2="383.50" y2="308.56" stroke="#6a6a6c" stroke-width="0.8" />
<rect x="370.30" y="311.17" width="16.80" height="6.33" fill="#808184" stroke="none" stroke-width="0.6"/>
<line x1="404.60" y1="313.03" x2="404.60" y2="311.54" stroke="#2d3c8c" stroke-width="0.8" />
<line x1="399.80" y1="311.54" x2="409.40" y2="311.54" stroke="#2d3c8c" stroke-width="0.8" />
<rect x="396.20" y="313.03" width="16.80" height="4.47" fill="#3850a2" stroke="none" stroke-width="0.6"/>
<line x1="430.40" y1="248.22" x2="430.40" y2="245.24" stroke="#3d6b47" stroke-width="0.8" />
<line x1="425.60" y1="245.24" x2="435.20" y2="245.24" stroke="#3d6b47" stroke-width="0.8" />
<rect x="422.00" y="248.22" width="16.80" height="69.28" fill="#33b04a" stroke="none" stroke-width="0.6"/>
<line x1="456.60" y1="285.84" x2="456.60" y2="269.82" stroke="#5b4468" stroke-width="0.8" />
<line x1="451.80" y1="269.82" x2="461.40" y2="269.82" stroke="#5b4468" stroke-width="0.8" />
<rect x="448.20" y="285.84" width="16.80" height="31.66" fill="#86439a" stroke="none" stroke-width="0.6"/>
<line x1="334.90" y1="224.38" x2="334.90" y2="317.50" stroke="#231f20" stroke-width="0.8" />
<line x1="334.50" y1="317.50" x2="474.00" y2="317.50" stroke="#231f20" stroke-width="0.8" />
<line x1="332.40" y1="317.50" x2="334.90" y2="317.50" stroke="#231f20" stroke-width="0.8" />
<text x="330.70" y="320.20" font-size="7.4" text-anchor="end" fill="#231f20" stroke="#231f20" stroke-width="0.1" >0</text>
<line x1="332.40" y1="298.88" x2="334.90" y2="298.88" stroke="#231f20" stroke-width="0.8" />
<text x="330.70" y="301.57" font-size="7.4" text-anchor="end" fill="#231f20" stroke="#231f20" stroke-width="0.1" >25</text>
<line x1="332.40" y1="280.25" x2="334.90" y2="280.25" stroke="#231f20" stroke-width="0.8" />
<text x="330.70" y="282.95" font-size="7.4" text-anchor="end" fill="#231f20" stroke="#231f20" stroke-width="0.1" >50</text>
<line x1="332.40" y1="261.62" x2="334.90" y2="261.62" stroke="#231f20" stroke-width="0.8" />
<text x="330.70" y="264.32" font-size="7.4" text-anchor="end" fill="#231f20" stroke="#231f20" stroke-width="0.1" >75</text>
<line x1="332.40" y1="243.00" x2="334.90" y2="243.00" stroke="#231f20" stroke-width="0.8" />
<text x="330.70" y="245.70" font-size="7.4" text-anchor="end" fill="#231f20" stroke="#231f20" stroke-width="0.1" >100</text>
<line x1="332.40" y1="224.38" x2="334.90" y2="224.38" stroke="#231f20" stroke-width="0.8" />
<text x="330.70" y="227.07" font-size="7.4" text-anchor="end" fill="#231f20" stroke="#231f20" stroke-width="0.1" >125</text>
<line x1="352.70" y1="317.50" x2="352.70" y2="320.00" stroke="#231f20" stroke-width="0.8" />
<text x="355.10" y="327.90" font-size="7.4" text-anchor="end" fill="#231f20" stroke="#231f20" stroke-width="0.1" transform="rotate(-45 355.10 327.90)" >Control</text>
<line x1="378.70" y1="317.50" x2="378.70" y2="320.00" stroke="#231f20" stroke-width="0.8" />
<text x="381.10" y="327.90" font-size="7.4" text-anchor="end" fill="#231f20" stroke="#231f20" stroke-width="0.1" transform="rotate(-45 381.10 327.90)" >Fulvestrant</text>
<line x1="404.60" y1="317.50" x2="404.60" y2="320.00" stroke="#231f20" stroke-width="0.8" />
<text x="407.00" y="327.90" font-size="7.4" text-anchor="end" fill="#231f20" stroke="#231f20" stroke-width="0.1" transform="rotate(-45 407.00 327.90)" >SAR439859</text>
<line x1="430.40" y1="317.50" x2="430.40" y2="320.00" stroke="#231f20" stroke-width="0.8" />
<text x="432.80" y="327.90" font-size="7.4" text-anchor="end" fill="#231f20" stroke="#231f20" stroke-width="0.1" transform="rotate(-45 432.80 327.90)" >GDC0810</text>
<line x1="456.60" y1="317.50" x2="456.60" y2="320.00" stroke="#231f20" stroke-width="0.8" />
<text x="459.00" y="327.90" font-size="7.4" text-anchor="end" fill="#231f20" stroke="#231f20" stroke-width="0.1" transform="rotate(-45 459.00 327.90)" >AZD9496</text>
<text x="378.70" y="305.58" font-size="7" text-anchor="middle" fill="#231f20" stroke="#231f20" stroke-width="0.2" font-weight="bold" >*</text>
<text x="404.60" y="307.81" font-size="7" text-anchor="middle" fill="#231f20" stroke="#231f20" stroke-width="0.2" font-weight="bold" >*</text>
<text x="310.60" y="269.64" font-size="7.5" text-anchor="middle" fill="#231f20" stroke="#231f20" stroke-width="0.2" font-weight="bold" transform="rotate(-90 310.60 269.64)" >CXCL12 expression (%)</text>
<path d="M33.00 481.23 L57.12 470.19 L81.24 454.74 L99.33 434.47 L123.45 423.43 L141.54 415.00" fill="none" stroke="#e8212b" stroke-width="0.8"/>
<circle cx="33.00" cy="481.23" r="2.0" fill="#e8212b" stroke="none" stroke-width="0.6"/>
<line x1="57.12" y1="466.58" x2="57.12" y2="473.80" stroke="#e8212b" stroke-width="0.7" />
<line x1="55.32" y1="466.58" x2="58.92" y2="466.58" stroke="#e8212b" stroke-width="0.7" />
<line x1="55.32" y1="473.80" x2="58.92" y2="473.80" stroke="#e8212b" stroke-width="0.7" />
<circle cx="57.12" cy="470.19" r="2.0" fill="#e8212b" stroke="none" stroke-width="0.6"/>
<line x1="81.24" y1="446.71" x2="81.24" y2="462.77" stroke="#e8212b" stroke-width="0.7" />
<line x1="79.44" y1="446.71" x2="83.04" y2="446.71" stroke="#e8212b" stroke-width="0.7" />
<line x1="79.44" y1="462.77" x2="83.04" y2="462.77" stroke="#e8212b" stroke-width="0.7" />
<circle cx="81.24" cy="454.74" r="2.0" fill="#e8212b" stroke="none" stroke-width="0.6"/>
<line x1="99.33" y1="422.02" x2="99.33" y2="446.91" stroke="#e8212b" stroke-width="0.7" />
<line x1="97.53" y1="422.02" x2="101.13" y2="422.02" stroke="#e8212b" stroke-width="0.7" />
<line x1="97.53" y1="446.91" x2="101.13" y2="446.91" stroke="#e8212b" stroke-width="0.7" />
<circle cx="99.33" cy="434.47" r="2.0" fill="#e8212b" stroke="none" stroke-width="0.6"/>
<line x1="123.45" y1="407.97" x2="123.45" y2="438.88" stroke="#e8212b" stroke-width="0.7" />
<line x1="121.65" y1="407.97" x2="125.25" y2="407.97" stroke="#e8212b" stroke-width="0.7" />
<line x1="121.65" y1="438.88" x2="125.25" y2="438.88" stroke="#e8212b" stroke-width="0.7" />
<circle cx="123.45" cy="423.43" r="2.0" fill="#e8212b" stroke="none" stroke-width="0.6"/>
<line x1="141.54" y1="397.34" x2="141.54" y2="432.66" stroke="#e8212b" stroke-width="0.7" />
<line x1="139.74" y1="397.34" x2="143.34" y2="397.34" stroke="#e8212b" stroke-width="0.7" />
<line x1="139.74" y1="432.66" x2="143.34" y2="432.66" stroke="#e8212b" stroke-width="0.7" />
<circle cx="141.54" cy="415.00" r="2.0" fill="#e8212b" stroke="none" stroke-width="0.6"/>
<path d="M33.00 481.23 L57.12 471.19 L81.24 456.74 L99.33 447.51 L123.45 434.07 L141.54 419.41" fill="none" stroke="#808184" stroke-width="0.8"/>
<circle cx="33.00" cy="481.23" r="2.0" fill="#808184" stroke="none" stroke-width="0.6"/>
<line x1="57.12" y1="467.58" x2="57.12" y2="474.81" stroke="#808184" stroke-width="0.7" />
<line x1="55.32" y1="467.58" x2="58.92" y2="467.58" stroke="#808184" stroke-width="0.7" />
<line x1="55.32" y1="474.81" x2="58.92" y2="474.81" stroke="#808184" stroke-width="0.7" />
<circle cx="57.12" cy="471.19" r="2.0" fill="#808184" stroke="none" stroke-width="0.6"/>
<line x1="81.24" y1="450.72" x2="81.24" y2="462.77" stroke="#808184" stroke-width="0.7" />
<line x1="79.44" y1="450.72" x2="83.04" y2="450.72" stroke="#808184" stroke-width="0.7" />
<line x1="79.44" y1="462.77" x2="83.04" y2="462.77" stroke="#808184" stroke-width="0.7" />
<circle cx="81.24" cy="456.74" r="2.0" fill="#808184" stroke="none" stroke-width="0.6"/>
<line x1="99.33" y1="439.48" x2="99.33" y2="455.54" stroke="#808184" stroke-width="0.7" />
<line x1="97.53" y1="439.48" x2="101.13" y2="439.48" stroke="#808184" stroke-width="0.7" />
<line x1="97.53" y1="455.54" x2="101.13" y2="455.54" stroke="#808184" stroke-width="0.7" />
<circle cx="99.33" cy="447.51" r="2.0" fill="#808184" stroke="none" stroke-width="0.6"/>
<line x1="123.45" y1="425.64" x2="123.45" y2="442.49" stroke="#808184" stroke-width="0.7" />
<line x1="121.65" y1="425.64" x2="125.25" y2="425.64" stroke="#808184" stroke-width="0.7" />
<line x1="121.65" y1="442.49" x2="125.25" y2="442.49" stroke="#808184" stroke-width="0.7" />
<circle cx="123.45" cy="434.07" r="2.0" fill="#808184" stroke="none" stroke-width="0.6"/>
<line x1="141.54" y1="409.38" x2="141.54" y2="429.45" stroke="#808184" stroke-width="0.7" />
<line x1="139.74" y1="409.38" x2="143.34" y2="409.38" stroke="#808184" stroke-width="0.7" />
<line x1="139.74" y1="429.45" x2="143.34" y2="429.45" stroke="#808184" stroke-width="0.7" />
<circle cx="141.54" cy="419.41" r="2.0" fill="#808184" stroke="none" stroke-width="0.6"/>
<path d="M33.00 481.23 L57.12 473.20 L81.24 468.18 L99.33 459.76 L123.45 451.53 L141.54 450.12" fill="none" stroke="#33b04a" stroke-width="0.8"/>
<circle cx="33.00" cy="481.23" r="2.0" fill="#33b04a" stroke="none" stroke-width="0.6"/>
<line x1="57.12" y1="470.79" x2="57.12" y2="475.61" stroke="#33b04a" stroke-width="0.7" />
<line x1="55.32" y1="470.79" x2="58.92" y2="470.79" stroke="#33b04a" stroke-width="0.7" />
<line x1="55.32" y1="475.61" x2="58.92" y2="475.61" stroke="#33b04a" stroke-width="0.7" />
<circle cx="57.12" cy="473.20" r="2.0" fill="#33b04a" stroke="none" stroke-width="0.6"/>
<line x1="81.24" y1="464.17" x2="81.24" y2="472.20" stroke="#33b04a" stroke-width="0.7" />
<line x1="79.44" y1="464.17" x2="83.04" y2="464.17" stroke="#33b04a" stroke-width="0.7" />
<line x1="79.44" y1="472.20" x2="83.04" y2="472.20" stroke="#33b04a" stroke-width="0.7" />
<circle cx="81.24" cy="468.18" r="2.0" fill="#33b04a" stroke="none" stroke-width="0.6"/>
<line x1="99.33" y1="453.73" x2="99.33" y2="465.78" stroke="#33b04a" stroke-width="0.7" />
<line x1="97.53" y1="453.73" x2="101.13" y2="453.73" stroke="#33b04a" stroke-width="0.7" />
<line x1="97.53" y1="465.78" x2="101.13" y2="465.78" stroke="#33b04a" stroke-width="0.7" />
<circle cx="99.33" cy="459.76" r="2.0" fill="#33b04a" stroke="none" stroke-width="0.6"/>
<line x1="123.45" y1="444.30" x2="123.45" y2="458.75" stroke="#33b04a" stroke-width="0.7" />
<line x1="121.65" y1="444.30" x2="125.25" y2="444.30" stroke="#33b04a" stroke-width="0.7" />
<line x1="121.65" y1="458.75" x2="125.25" y2="458.75" stroke="#33b04a" stroke-width="0.7" />
<circle cx="123.45" cy="451.53" r="2.0" fill="#33b04a" stroke="none" stroke-width="0.6"/>
<line x1="141.54" y1="441.69" x2="141.54" y2="458.55" stroke="#33b04a" stroke-width="0.7" />
<line x1="139.74" y1="441.69" x2="143.34" y2="441.69" stroke="#33b04a" stroke-width="0.7" />
<line x1="139.74" y1="458.55" x2="143.34" y2="458.55" stroke="#33b04a" stroke-width="0.7" />
<circle cx="141.54" cy="450.12" r="2.0" fill="#33b04a" stroke="none" stroke-width="0.6"/>
<path d="M33.00 481.23 L57.12 474.21 L81.24 470.19 L99.33 468.59 L123.45 465.78 L141.54 462.16" fill="none" stroke="#231f20" stroke-width="0.8"/>
<circle cx="33.00" cy="481.23" r="2.0" fill="#231f20" stroke="none" stroke-width="0.6"/>
<line x1="57.12" y1="472.20" x2="57.12" y2="476.21" stroke="#231f20" stroke-width="0.7" />
<line x1="55.32" y1="472.20" x2="58.92" y2="472.20" stroke="#231f20" stroke-width="0.7" />
<line x1="55.32" y1="476.21" x2="58.92" y2="476.21" stroke="#231f20" stroke-width="0.7" />
<circle cx="57.12" cy="474.21" r="2.0" fill="#231f20" stroke="none" stroke-width="0.6"/>
<line x1="81.24" y1="466.18" x2="81.24" y2="474.21" stroke="#231f20" stroke-width="0.7" />
<line x1="79.44" y1="466.18" x2="83.04" y2="466.18" stroke="#231f20" stroke-width="0.7" />
<line x1="79.44" y1="474.21" x2="83.04" y2="474.21" stroke="#231f20" stroke-width="0.7" />
<circle cx="81.24" cy="470.19" r="2.0" fill="#231f20" stroke="none" stroke-width="0.6"/>
<line x1="99.33" y1="463.57" x2="99.33" y2="473.60" stroke="#231f20" stroke-width="0.7" />
<line x1="97.53" y1="463.57" x2="101.13" y2="463.57" stroke="#231f20" stroke-width="0.7" />
<line x1="97.53" y1="473.60" x2="101.13" y2="473.60" stroke="#231f20" stroke-width="0.7" />
<circle cx="99.33" cy="468.59" r="2.0" fill="#231f20" stroke="none" stroke-width="0.6"/>
<line x1="123.45" y1="459.15" x2="123.45" y2="472.40" stroke="#231f20" stroke-width="0.7" />
<line x1="121.65" y1="459.15" x2="125.25" y2="459.15" stroke="#231f20" stroke-width="0.7" />
<line x1="121.65" y1="472.40" x2="125.25" y2="472.40" stroke="#231f20" stroke-width="0.7" />
<circle cx="123.45" cy="465.78" r="2.0" fill="#231f20" stroke="none" stroke-width="0.6"/>
<line x1="141.54" y1="454.94" x2="141.54" y2="469.39" stroke="#231f20" stroke-width="0.7" />
<line x1="139.74" y1="454.94" x2="143.34" y2="454.94" stroke="#231f20" stroke-width="0.7" />
<line x1="139.74" y1="469.39" x2="143.34" y2="469.39" stroke="#231f20" stroke-width="0.7" />
<circle cx="141.54" cy="462.16" r="2.0" fill="#231f20" stroke="none" stroke-width="0.6"/>
<path d="M33.00 481.23 L57.12 479.22 L81.24 483.64 L99.33 489.86 L123.45 492.27 L141.54 495.28" fill="none" stroke="#3850a2" stroke-width="0.8"/>
<circle cx="33.00" cy="481.23" r="2.0" fill="#3850a2" stroke="none" stroke-width="0.6"/>
<circle cx="57.12" cy="479.22" r="2.0" fill="#3850a2" stroke="none" stroke-width="0.6"/>
<circle cx="81.24" cy="483.64" r="2.0" fill="#3850a2" stroke="none" stroke-width="0.6"/>
<circle cx="99.33" cy="489.86" r="2.0" fill="#3850a2" stroke="none" stroke-width="0.6"/>
<circle cx="123.45" cy="492.27" r="2.0" fill="#3850a2" stroke="none" stroke-width="0.6"/>
<circle cx="141.54" cy="495.28" r="2.0" fill="#3850a2" stroke="none" stroke-width="0.6"/>
<circle cx="33.00" cy="481.23" r="2.0" fill="#7d8699" stroke="none" stroke-width="0.6"/>
<line x1="33.00" y1="380.88" x2="33.00" y2="501.30" stroke="#5f6062" stroke-width="1.0" />
<line x1="32.50" y1="501.30" x2="153.60" y2="501.30" stroke="#5f6062" stroke-width="1.0" />
<line x1="30.20" y1="501.30" x2="33.00" y2="501.30" stroke="#5f6062" stroke-width="1.0" />
<text x="28.00" y="504.00" font-size="7.4" text-anchor="end" fill="#231f20" stroke="#231f20" stroke-width="0.1" >0</text>
<line x1="30.20" y1="461.16" x2="33.00" y2="461.16" stroke="#5f6062" stroke-width="1.0" />
<text x="28.00" y="463.86" font-size="7.4" text-anchor="end" fill="#231f20" stroke="#231f20" stroke-width="0.1" >200</text>
<line x1="30.20" y1="421.02" x2="33.00" y2="421.02" stroke="#5f6062" stroke-width="1.0" />
<text x="28.00" y="423.72" font-size="7.4" text-anchor="end" fill="#231f20" stroke="#231f20" stroke-width="0.1" >400</text>
<line x1="30.20" y1="380.88" x2="33.00" y2="380.88" stroke="#5f6062" stroke-width="1.0" />
<text x="28.00" y="383.58" font-size="7.4" text-anchor="end" fill="#231f20" stroke="#231f20" stroke-width="0.1" >600</text>
<line x1="33.00" y1="501.30" x2="33.00" y2="504.10" stroke="#5f6062" stroke-width="1.0" />
<text x="33.00" y="513.50" font-size="7.5" text-anchor="middle" fill="#231f20" stroke="#231f20" stroke-width="0.1" >0</text>
<line x1="63.15" y1="501.30" x2="63.15" y2="504.10" stroke="#5f6062" stroke-width="1.0" />
<text x="63.15" y="513.50" font-size="7.5" text-anchor="middle" fill="#231f20" stroke="#231f20" stroke-width="0.1" >5</text>
<line x1="93.30" y1="501.30" x2="93.30" y2="504.10" stroke="#5f6062" stroke-width="1.0" />
<text x="93.30" y="513.50" font-size="7.5" text-anchor="middle" fill="#231f20" stroke="#231f20" stroke-width="0.1" >10</text>
<line x1="123.45" y1="501.30" x2="123.45" y2="504.10" stroke="#5f6062" stroke-width="1.0" />
<text x="123.45" y="513.50" font-size="7.5" text-anchor="middle" fill="#231f20" stroke="#231f20" stroke-width="0.1" >15</text>
<line x1="153.60" y1="501.30" x2="153.60" y2="504.10" stroke="#5f6062" stroke-width="1.0" />
<text x="153.60" y="513.50" font-size="7.5" text-anchor="middle" fill="#231f20" stroke="#231f20" stroke-width="0.1" >20</text>
<text x="95.00" y="525.60" font-size="7.45" text-anchor="middle" fill="#231f20" stroke="#231f20" stroke-width="0.2" font-weight="bold" >Days of treatment</text>
<text x="8.50" y="438.70" font-size="8.6" text-anchor="middle" fill="#231f20" stroke="#231f20" stroke-width="0.2" font-weight="bold" transform="rotate(-90 8.50 438.70)" >Relative tumor volume</text>
<text x="149.80" y="453.20" font-size="6.5" text-anchor="middle" fill="#231f20" stroke="#231f20" stroke-width="0.2" font-weight="bold" >*</text>
<text x="151.60" y="465.00" font-size="6.5" text-anchor="middle" fill="#231f20" stroke="#231f20" stroke-width="0.2" font-weight="bold" letter-spacing="0.7">**</text>
<text x="151.60" y="498.00" font-size="6.5" text-anchor="middle" fill="#231f20" stroke="#231f20" stroke-width="0.2" font-weight="bold" letter-spacing="0.7">**</text>
<line x1="163.00" y1="406.00" x2="175.40" y2="406.00" stroke="#e8212b" stroke-width="0.7" />
<circle cx="169.20" cy="406.00" r="1.9" fill="#e8212b" stroke="none" stroke-width="0.6"/>
<text x="181.50" y="402.80" font-size="7.52" text-anchor="start" fill="#231f20" stroke="#231f20" stroke-width="0.1" >Tamoxifen</text>
<text x="181.50" y="412.50" font-size="7.33" text-anchor="start" fill="#231f20" stroke="#231f20" stroke-width="0.1" >30 mg/kg (every day)</text>
<line x1="163.00" y1="422.20" x2="175.40" y2="422.20" stroke="#808184" stroke-width="0.7" />
<circle cx="169.20" cy="422.20" r="1.9" fill="#808184" stroke="none" stroke-width="0.6"/>
<text x="181.50" y="424.80" font-size="7.52" text-anchor="start" fill="#231f20" stroke="#231f20" stroke-width="0.1" >Vehicle</text>
<line x1="163.00" y1="440.50" x2="175.40" y2="440.50" stroke="#33b04a" stroke-width="0.7" />
<circle cx="169.20" cy="440.50" r="1.9" fill="#33b04a" stroke="none" stroke-width="0.6"/>
<text x="181.50" y="437.20" font-size="7.52" text-anchor="start" fill="#231f20" stroke="#231f20" stroke-width="0.1" >GDC0810</text>
<text x="181.50" y="447.10" font-size="7.33" text-anchor="start" fill="#231f20" stroke="#231f20" stroke-width="0.1" >100 mg/kg (every day)</text>
<line x1="163.00" y1="462.40" x2="175.40" y2="462.40" stroke="#231f20" stroke-width="0.7" />
<circle cx="169.20" cy="462.40" r="1.9" fill="#231f20" stroke="none" stroke-width="0.6"/>
<text x="181.50" y="457.50" font-size="7.52" text-anchor="start" fill="#231f20" stroke="#231f20" stroke-width="0.1" >Fulvestrant</text>
<text x="181.50" y="468.30" font-size="7.33" text-anchor="start" fill="#231f20" stroke="#231f20" stroke-width="0.1" >200 mg/kg (twice a week)</text>
<line x1="163.00" y1="484.40" x2="175.40" y2="484.40" stroke="#3850a2" stroke-width="0.7" />
<circle cx="169.20" cy="484.40" r="1.9" fill="#3850a2" stroke="none" stroke-width="0.6"/>
<text x="181.50" y="480.00" font-size="7.52" text-anchor="start" fill="#231f20" stroke="#231f20" stroke-width="0.1" >SAR439859</text>
<text x="181.50" y="490.30" font-size="7.33" text-anchor="start" fill="#231f20" stroke="#231f20" stroke-width="0.1" >100 mg/kg (every day)</text>
<line x1="309.95" y1="433.94" x2="309.95" y2="445.59" stroke="#7d3034" stroke-width="0.8" />
<line x1="306.55" y1="445.59" x2="313.35" y2="445.59" stroke="#7d3034" stroke-width="0.8" />
<rect x="304.00" y="418.40" width="11.90" height="15.54" fill="#e8212b" stroke="none" stroke-width="0.6"/>
<line x1="329.95" y1="397.81" x2="329.95" y2="394.31" stroke="#4a4a4c" stroke-width="0.8" />
<line x1="326.55" y1="394.31" x2="333.35" y2="394.31" stroke="#4a4a4c" stroke-width="0.8" />
<rect x="324.00" y="397.81" width="11.90" height="20.59" fill="#58595b" stroke="none" stroke-width="0.6"/>
<line x1="349.75" y1="408.69" x2="349.75" y2="406.75" stroke="#2c8f40" stroke-width="0.8" />
<line x1="346.35" y1="406.75" x2="353.15" y2="406.75" stroke="#2c8f40" stroke-width="0.8" />
<rect x="343.80" y="408.69" width="11.90" height="9.71" fill="#33b04a" stroke="none" stroke-width="0.6"/>
<line x1="369.45" y1="391.98" x2="369.45" y2="391.09" stroke="#2d3c8c" stroke-width="0.8" />
<line x1="366.05" y1="391.09" x2="372.85" y2="391.09" stroke="#2d3c8c" stroke-width="0.8" />
<rect x="363.50" y="391.98" width="11.90" height="26.42" fill="#3850a2" stroke="none" stroke-width="0.6"/>
<line x1="301.00" y1="379.55" x2="301.00" y2="457.25" stroke="#111" stroke-width="0.75" />
<line x1="301.00" y1="418.40" x2="378.50" y2="418.40" stroke="#111" stroke-width="0.75" />
<line x1="300.60" y1="457.25" x2="378.50" y2="457.25" stroke="#111" stroke-width="0.75" />
<line x1="298.20" y1="457.25" x2="301.00" y2="457.25" stroke="#231f20" stroke-width="0.8" />
<text x="297.00" y="459.75" font-size="7.0" text-anchor="end" fill="#231f20" stroke="#231f20" stroke-width="0.1" >−100</text>
<line x1="298.20" y1="437.82" x2="301.00" y2="437.82" stroke="#231f20" stroke-width="0.8" />
<text x="297.00" y="440.32" font-size="7.0" text-anchor="end" fill="#231f20" stroke="#231f20" stroke-width="0.1" >−50</text>
<line x1="298.20" y1="418.40" x2="301.00" y2="418.40" stroke="#231f20" stroke-width="0.8" />
<text x="297.00" y="420.90" font-size="7.0" text-anchor="end" fill="#231f20" stroke="#231f20" stroke-width="0.1" >0</text>
<line x1="298.20" y1="398.97" x2="301.00" y2="398.97" stroke="#231f20" stroke-width="0.8" />
<text x="297.00" y="401.47" font-size="7.0" text-anchor="end" fill="#231f20" stroke="#231f20" stroke-width="0.1" >50</text>
<line x1="298.20" y1="379.55" x2="301.00" y2="379.55" stroke="#231f20" stroke-width="0.8" />
<text x="297.00" y="382.05" font-size="7.0" text-anchor="end" fill="#231f20" stroke="#231f20" stroke-width="0.1" >100</text>
<line x1="309.95" y1="457.25" x2="309.95" y2="460.05" stroke="#231f20" stroke-width="0.8" />
<text x="312.15" y="466.55" font-size="7.4" text-anchor="end" fill="#231f20" stroke="#231f20" stroke-width="0.1" transform="rotate(-45 312.15 466.55)" >Tamoxifen - 30 mg/kg</text>
<line x1="329.95" y1="457.25" x2="329.95" y2="460.05" stroke="#231f20" stroke-width="0.8" />
<text x="332.15" y="466.55" font-size="7.4" text-anchor="end" fill="#231f20" stroke="#231f20" stroke-width="0.1" transform="rotate(-45 332.15 466.55)" >Fulvestrant - 200 mg/kg</text>
<line x1="349.75" y1="457.25" x2="349.75" y2="460.05" stroke="#231f20" stroke-width="0.8" />
<text x="351.95" y="466.55" font-size="7.4" text-anchor="end" fill="#231f20" stroke="#231f20" stroke-width="0.1" transform="rotate(-45 351.95 466.55)" >GDC0810 - 100 mg/kg</text>
<line x1="369.45" y1="457.25" x2="369.45" y2="460.05" stroke="#231f20" stroke-width="0.8" />
<text x="371.65" y="466.55" font-size="7.4" text-anchor="end" fill="#231f20" stroke="#231f20" stroke-width="0.1" transform="rotate(-45 371.65 466.55)" >SAR439859 - 100 mg/kg</text>
<text x="329.90" y="391.50" font-size="7" text-anchor="middle" fill="#231f20" stroke="#231f20" stroke-width="0.2" font-weight="bold" >*</text>
<text x="369.40" y="388.00" font-size="7" text-anchor="middle" fill="#231f20" stroke="#231f20" stroke-width="0.2" font-weight="bold" >*</text>
<text transform="translate(277.6 417.40) rotate(-90)" font-size="7.4" font-weight="bold" text-anchor="middle" fill="#231f20">ERα degradation (%)</text>
<line x1="446.35" y1="415.92" x2="446.35" y2="400.91" stroke="#444" stroke-width="0.8" />
<line x1="443.35" y1="400.91" x2="449.35" y2="400.91" stroke="#444" stroke-width="0.8" />
<rect x="440.80" y="415.92" width="11.10" height="41.48" fill="#231f20" stroke="none" stroke-width="0.6"/>
<line x1="462.45" y1="396.96" x2="462.45" y2="382.35" stroke="#7d3034" stroke-width="0.8" />
<line x1="459.45" y1="382.35" x2="465.45" y2="382.35" stroke="#7d3034" stroke-width="0.8" />
<rect x="456.90" y="396.96" width="11.10" height="60.44" fill="#e8212b" stroke="none" stroke-width="0.6"/>
<line x1="478.05" y1="441.60" x2="478.05" y2="436.07" stroke="#4a4a4c" stroke-width="0.8" />
<line x1="475.05" y1="436.07" x2="481.05" y2="436.07" stroke="#4a4a4c" stroke-width="0.8" />
<rect x="472.50" y="441.60" width="11.10" height="15.80" fill="#58595b" stroke="none" stroke-width="0.6"/>
<line x1="493.75" y1="405.26" x2="493.75" y2="392.22" stroke="#3d6b47" stroke-width="0.8" />
<line x1="490.75" y1="392.22" x2="496.75" y2="392.22" stroke="#3d6b47" stroke-width="0.8" />
<rect x="488.20" y="405.26" width="11.10" height="52.14" fill="#33b04a" stroke="none" stroke-width="0.6"/>
<line x1="508.35" y1="447.52" x2="508.35" y2="445.15" stroke="#2d3c8c" stroke-width="0.8" />
<line x1="505.35" y1="445.15" x2="511.35" y2="445.15" stroke="#2d3c8c" stroke-width="0.8" />
<rect x="502.80" y="447.52" width="11.10" height="9.88" fill="#3850a2" stroke="none" stroke-width="0.6"/>
<line x1="437.70" y1="378.40" x2="437.70" y2="457.40" stroke="#111" stroke-width="0.75" />
<line x1="437.30" y1="457.40" x2="516.00" y2="457.40" stroke="#111" stroke-width="0.75" />
<line x1="434.90" y1="457.40" x2="437.70" y2="457.40" stroke="#231f20" stroke-width="0.8" />
<text x="434.10" y="459.90" font-size="7.0" text-anchor="end" fill="#231f20" stroke="#231f20" stroke-width="0.1" >0.0</text>
<line x1="434.90" y1="437.65" x2="437.70" y2="437.65" stroke="#231f20" stroke-width="0.8" />
<text x="434.10" y="440.15" font-size="7.0" text-anchor="end" fill="#231f20" stroke="#231f20" stroke-width="0.1" >0.5</text>
<line x1="434.90" y1="417.90" x2="437.70" y2="417.90" stroke="#231f20" stroke-width="0.8" />
<text x="434.10" y="420.40" font-size="7.0" text-anchor="end" fill="#231f20" stroke="#231f20" stroke-width="0.1" >1.0</text>
<line x1="434.90" y1="398.15" x2="437.70" y2="398.15" stroke="#231f20" stroke-width="0.8" />
<text x="434.10" y="400.65" font-size="7.0" text-anchor="end" fill="#231f20" stroke="#231f20" stroke-width="0.1" >1.5</text>
<line x1="434.90" y1="378.40" x2="437.70" y2="378.40" stroke="#231f20" stroke-width="0.8" />
<text x="434.10" y="380.90" font-size="7.0" text-anchor="end" fill="#231f20" stroke="#231f20" stroke-width="0.1" >2.0</text>
<line x1="446.35" y1="457.40" x2="446.35" y2="460.20" stroke="#231f20" stroke-width="0.8" />
<text x="446.85" y="466.40" font-size="7.4" text-anchor="end" fill="#231f20" stroke="#231f20" stroke-width="0.1" transform="rotate(-43 446.85 466.40)" >Vehicle</text>
<line x1="462.45" y1="457.40" x2="462.45" y2="460.20" stroke="#231f20" stroke-width="0.8" />
<text x="462.95" y="466.40" font-size="7.4" text-anchor="end" fill="#231f20" stroke="#231f20" stroke-width="0.1" transform="rotate(-43 462.95 466.40)" >Tamoxifen - 30 mg/kg</text>
<line x1="478.05" y1="457.40" x2="478.05" y2="460.20" stroke="#231f20" stroke-width="0.8" />
<text x="478.55" y="466.40" font-size="7.4" text-anchor="end" fill="#231f20" stroke="#231f20" stroke-width="0.1" transform="rotate(-43 478.55 466.40)" >Fulvestrant 200 mg/kg</text>
<line x1="493.75" y1="457.40" x2="493.75" y2="460.20" stroke="#231f20" stroke-width="0.8" />
<text x="494.25" y="466.40" font-size="7.4" text-anchor="end" fill="#231f20" stroke="#231f20" stroke-width="0.1" transform="rotate(-43 494.25 466.40)" >GDC0810 - 100 mg/kg</text>
<line x1="508.35" y1="457.40" x2="508.35" y2="460.20" stroke="#231f20" stroke-width="0.8" />
<text x="508.85" y="466.40" font-size="7.4" text-anchor="end" fill="#231f20" stroke="#231f20" stroke-width="0.1" transform="rotate(-43 508.85 466.40)" >SAR439859 - 100 mg/kg</text>
<text x="478.00" y="433.30" font-size="7" text-anchor="middle" fill="#231f20" stroke="#231f20" stroke-width="0.2" font-weight="bold" >*</text>
<text x="508.30" y="442.78" font-size="7" text-anchor="middle" fill="#231f20" stroke="#231f20" stroke-width="0.2" font-weight="bold" >*</text>
<text x="419.70" y="417.90" font-size="7.4" text-anchor="middle" fill="#231f20" stroke="#231f20" stroke-width="0.2" font-weight="bold" transform="rotate(-90 419.70 417.90)" >Relative PGR expression</text>
</svg>
</body></html>
